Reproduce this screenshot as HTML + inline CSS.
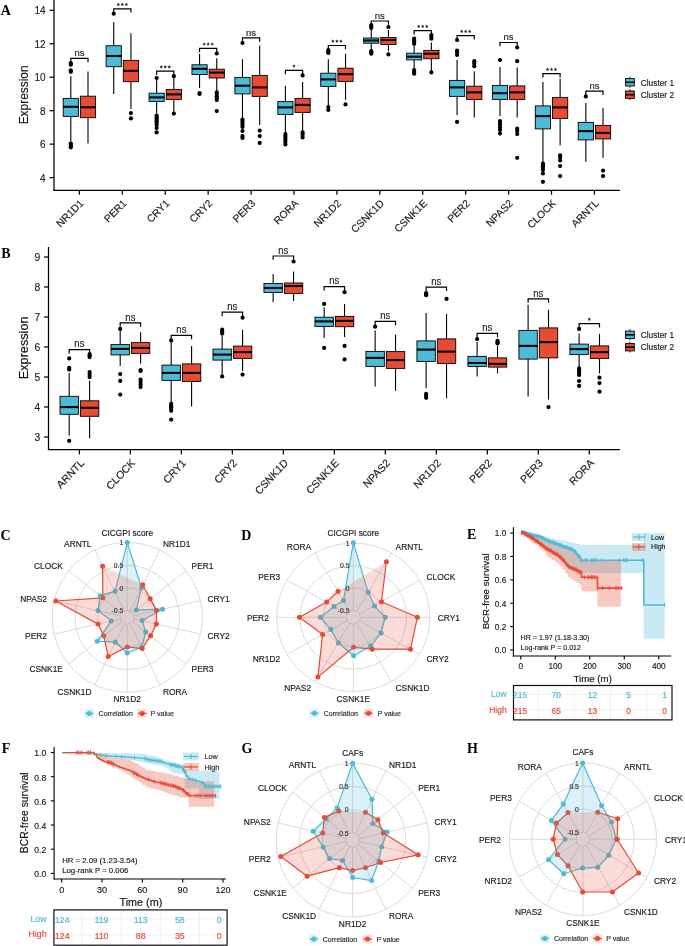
<!DOCTYPE html>
<html><head><meta charset="utf-8"><style>
html,body{margin:0;padding:0;background:#fff;overflow:hidden;}
svg{display:block;will-change:transform;}
text{font-family:"Liberation Sans",sans-serif;}
text.sf{font-family:"Liberation Serif",serif;}
</style></head><body>
<svg width="685" height="946" viewBox="0 0 685 946">
<rect width="685" height="946" fill="#fff"/>
<text x="0.8" y="14.7" font-size="14" fill="#000" font-weight="bold" class="sf">A</text>
<text x="1.2" y="258" font-size="14" fill="#000" font-weight="bold" class="sf">B</text>
<text x="0.5" y="539.6" font-size="14" fill="#000" font-weight="bold" class="sf">C</text>
<text x="241.3" y="539.6" font-size="14" fill="#000" font-weight="bold" class="sf">D</text>
<text x="467" y="539.3" font-size="14" fill="#000" font-weight="bold" class="sf">E</text>
<text x="1.8" y="752.5" font-size="14" fill="#000" font-weight="bold" class="sf">F</text>
<text x="241.6" y="752.9" font-size="14" fill="#000" font-weight="bold" class="sf">G</text>
<text x="467" y="753" font-size="14" fill="#000" font-weight="bold" class="sf">H</text>
<line x1="54" y1="0" x2="54" y2="190.85" stroke="#000" stroke-width="1.25"/>
<line x1="53.4" y1="190.25" x2="619.9" y2="190.25" stroke="#000" stroke-width="1.25"/>
<line x1="49.6" y1="177.6" x2="54" y2="177.6" stroke="#000" stroke-width="1.25"/>
<text x="45.5" y="181.6" font-size="10" text-anchor="end" fill="#222" stroke="#222" stroke-width="0.15">4</text>
<line x1="49.6" y1="144.14" x2="54" y2="144.14" stroke="#000" stroke-width="1.25"/>
<text x="45.5" y="148.14" font-size="10" text-anchor="end" fill="#222" stroke="#222" stroke-width="0.15">6</text>
<line x1="49.6" y1="110.68" x2="54" y2="110.68" stroke="#000" stroke-width="1.25"/>
<text x="45.5" y="114.68" font-size="10" text-anchor="end" fill="#222" stroke="#222" stroke-width="0.15">8</text>
<line x1="49.6" y1="77.22" x2="54" y2="77.22" stroke="#000" stroke-width="1.25"/>
<text x="45.5" y="81.22" font-size="10" text-anchor="end" fill="#222" stroke="#222" stroke-width="0.15">10</text>
<line x1="49.6" y1="43.76" x2="54" y2="43.76" stroke="#000" stroke-width="1.25"/>
<text x="45.5" y="47.76" font-size="10" text-anchor="end" fill="#222" stroke="#222" stroke-width="0.15">12</text>
<line x1="49.6" y1="10.3" x2="54" y2="10.3" stroke="#000" stroke-width="1.25"/>
<text x="45.5" y="14.3" font-size="10" text-anchor="end" fill="#222" stroke="#222" stroke-width="0.15">14</text>
<text x="28" y="94.9" font-size="11.9" text-anchor="middle" fill="#111" stroke="#111" stroke-width="0.15" transform="rotate(-90 28 94.9)">Expression</text>
<line x1="79.4" y1="190.3" x2="79.4" y2="194.7" stroke="#000" stroke-width="1.25"/>
<text x="84.4" y="203.9" font-size="10.3" text-anchor="end" fill="#222" stroke="#222" stroke-width="0.15" transform="rotate(-45 84.4 203.9)">NR1D1</text>
<line x1="122.32" y1="190.3" x2="122.32" y2="194.7" stroke="#000" stroke-width="1.25"/>
<text x="127.32" y="203.9" font-size="10.3" text-anchor="end" fill="#222" stroke="#222" stroke-width="0.15" transform="rotate(-45 127.32 203.9)">PER1</text>
<line x1="165.24" y1="190.3" x2="165.24" y2="194.7" stroke="#000" stroke-width="1.25"/>
<text x="170.24" y="203.9" font-size="10.3" text-anchor="end" fill="#222" stroke="#222" stroke-width="0.15" transform="rotate(-45 170.24 203.9)">CRY1</text>
<line x1="208.16" y1="190.3" x2="208.16" y2="194.7" stroke="#000" stroke-width="1.25"/>
<text x="213.16" y="203.9" font-size="10.3" text-anchor="end" fill="#222" stroke="#222" stroke-width="0.15" transform="rotate(-45 213.16 203.9)">CRY2</text>
<line x1="251.08" y1="190.3" x2="251.08" y2="194.7" stroke="#000" stroke-width="1.25"/>
<text x="256.08" y="203.9" font-size="10.3" text-anchor="end" fill="#222" stroke="#222" stroke-width="0.15" transform="rotate(-45 256.08 203.9)">PER3</text>
<line x1="294" y1="190.3" x2="294" y2="194.7" stroke="#000" stroke-width="1.25"/>
<text x="299" y="203.9" font-size="10.3" text-anchor="end" fill="#222" stroke="#222" stroke-width="0.15" transform="rotate(-45 299 203.9)">RORA</text>
<line x1="336.92" y1="190.3" x2="336.92" y2="194.7" stroke="#000" stroke-width="1.25"/>
<text x="341.92" y="203.9" font-size="10.3" text-anchor="end" fill="#222" stroke="#222" stroke-width="0.15" transform="rotate(-45 341.92 203.9)">NR1D2</text>
<line x1="379.84" y1="190.3" x2="379.84" y2="194.7" stroke="#000" stroke-width="1.25"/>
<text x="384.84" y="203.9" font-size="10.3" text-anchor="end" fill="#222" stroke="#222" stroke-width="0.15" transform="rotate(-45 384.84 203.9)">CSNK1D</text>
<line x1="422.76" y1="190.3" x2="422.76" y2="194.7" stroke="#000" stroke-width="1.25"/>
<text x="427.76" y="203.9" font-size="10.3" text-anchor="end" fill="#222" stroke="#222" stroke-width="0.15" transform="rotate(-45 427.76 203.9)">CSNK1E</text>
<line x1="465.68" y1="190.3" x2="465.68" y2="194.7" stroke="#000" stroke-width="1.25"/>
<text x="470.68" y="203.9" font-size="10.3" text-anchor="end" fill="#222" stroke="#222" stroke-width="0.15" transform="rotate(-45 470.68 203.9)">PER2</text>
<line x1="508.6" y1="190.3" x2="508.6" y2="194.7" stroke="#000" stroke-width="1.25"/>
<text x="513.6" y="203.9" font-size="10.3" text-anchor="end" fill="#222" stroke="#222" stroke-width="0.15" transform="rotate(-45 513.6 203.9)">NPAS2</text>
<line x1="551.52" y1="190.3" x2="551.52" y2="194.7" stroke="#000" stroke-width="1.25"/>
<text x="556.52" y="203.9" font-size="10.3" text-anchor="end" fill="#222" stroke="#222" stroke-width="0.15" transform="rotate(-45 556.52 203.9)">CLOCK</text>
<line x1="594.44" y1="190.3" x2="594.44" y2="194.7" stroke="#000" stroke-width="1.25"/>
<text x="599.44" y="203.9" font-size="10.3" text-anchor="end" fill="#222" stroke="#222" stroke-width="0.15" transform="rotate(-45 599.44 203.9)">ARNTL</text>
<line x1="70.8" y1="76.3" x2="70.8" y2="98.4" stroke="#000" stroke-width="1.1"/>
<line x1="70.8" y1="116.4" x2="70.8" y2="141.8" stroke="#000" stroke-width="1.1"/>
<rect x="63.2" y="98.4" width="15.2" height="18" fill="#4DBBD5" stroke="#000" stroke-width="0.9"/>
<line x1="63.2" y1="106.8" x2="78.4" y2="106.8" stroke="#000" stroke-width="2.1"/>
<circle cx="70.8" cy="63.2" r="2.1" fill="#000"/>
<circle cx="70.8" cy="64.8" r="2.1" fill="#000"/>
<circle cx="70.8" cy="70.3" r="2.1" fill="#000"/>
<circle cx="70.8" cy="71.8" r="2.1" fill="#000"/>
<circle cx="70.8" cy="143.5" r="2.1" fill="#000"/>
<circle cx="70.8" cy="144.8" r="2.1" fill="#000"/>
<circle cx="70.8" cy="146" r="2.1" fill="#000"/>
<circle cx="70.8" cy="147.3" r="2.1" fill="#000"/>
<line x1="88" y1="71.5" x2="88" y2="96.2" stroke="#000" stroke-width="1.1"/>
<line x1="88" y1="117.7" x2="88" y2="143.6" stroke="#000" stroke-width="1.1"/>
<rect x="80.4" y="96.2" width="15.2" height="21.5" fill="#E64B35" stroke="#000" stroke-width="0.9"/>
<line x1="80.4" y1="107.3" x2="95.6" y2="107.3" stroke="#000" stroke-width="2.1"/>
<path d="M70.8 62.2V58.4H88V62.2" fill="none" stroke="#000" stroke-width="1.2"/>
<text x="79.4" y="56.2" font-size="9.5" text-anchor="middle" fill="#222" stroke="#222" stroke-width="0.15">ns</text>
<line x1="113.72" y1="22" x2="113.72" y2="45.7" stroke="#000" stroke-width="1.1"/>
<line x1="113.72" y1="66.7" x2="113.72" y2="93.9" stroke="#000" stroke-width="1.1"/>
<rect x="106.12" y="45.7" width="15.2" height="21" fill="#4DBBD5" stroke="#000" stroke-width="0.9"/>
<line x1="106.12" y1="56" x2="121.32" y2="56" stroke="#000" stroke-width="2.1"/>
<circle cx="113.72" cy="13.7" r="2.1" fill="#000"/>
<line x1="130.92" y1="33.2" x2="130.92" y2="60.4" stroke="#000" stroke-width="1.1"/>
<line x1="130.92" y1="81.7" x2="130.92" y2="109.1" stroke="#000" stroke-width="1.1"/>
<rect x="123.32" y="60.4" width="15.2" height="21.3" fill="#E64B35" stroke="#000" stroke-width="0.9"/>
<line x1="123.32" y1="70.9" x2="138.52" y2="70.9" stroke="#000" stroke-width="2.1"/>
<circle cx="130.92" cy="113.1" r="2.1" fill="#000"/>
<circle cx="130.92" cy="118.4" r="2.1" fill="#000"/>
<path d="M113.72 12.6V8.8H130.92V12.6" fill="none" stroke="#000" stroke-width="1.2"/>
<polygon points="118.32,2.65 118.82,3.81 120.08,3.93 119.13,4.76 119.41,6 118.32,5.35 117.23,6 117.51,4.76 116.56,3.93 117.82,3.81" fill="#1a1a1a"/>
<polygon points="122.32,2.65 122.82,3.81 124.08,3.93 123.13,4.76 123.41,6 122.32,5.35 121.23,6 121.51,4.76 120.56,3.93 121.82,3.81" fill="#1a1a1a"/>
<polygon points="126.32,2.65 126.82,3.81 128.08,3.93 127.13,4.76 127.41,6 126.32,5.35 125.23,6 125.51,4.76 124.56,3.93 125.82,3.81" fill="#1a1a1a"/>
<line x1="156.64" y1="79.4" x2="156.64" y2="93.2" stroke="#000" stroke-width="1.1"/>
<line x1="156.64" y1="101.4" x2="156.64" y2="113.6" stroke="#000" stroke-width="1.1"/>
<rect x="149.04" y="93.2" width="15.2" height="8.2" fill="#4DBBD5" stroke="#000" stroke-width="0.9"/>
<line x1="149.04" y1="97.4" x2="164.24" y2="97.4" stroke="#000" stroke-width="2.1"/>
<circle cx="156.64" cy="78" r="2.1" fill="#000"/>
<circle cx="156.64" cy="115.5" r="2.1" fill="#000"/>
<circle cx="156.64" cy="117" r="2.1" fill="#000"/>
<circle cx="156.64" cy="118.5" r="2.1" fill="#000"/>
<circle cx="156.64" cy="120" r="2.1" fill="#000"/>
<circle cx="156.64" cy="121.5" r="2.1" fill="#000"/>
<circle cx="156.64" cy="123" r="2.1" fill="#000"/>
<circle cx="156.64" cy="125" r="2.1" fill="#000"/>
<circle cx="156.64" cy="128" r="2.1" fill="#000"/>
<circle cx="156.64" cy="132.4" r="2.1" fill="#000"/>
<line x1="173.84" y1="77.4" x2="173.84" y2="89.4" stroke="#000" stroke-width="1.1"/>
<line x1="173.84" y1="99.4" x2="173.84" y2="112.4" stroke="#000" stroke-width="1.1"/>
<rect x="166.24" y="89.4" width="15.2" height="10" fill="#E64B35" stroke="#000" stroke-width="0.9"/>
<line x1="166.24" y1="94.4" x2="181.44" y2="94.4" stroke="#000" stroke-width="2.1"/>
<circle cx="173.84" cy="76.2" r="2.1" fill="#000"/>
<circle cx="173.84" cy="113.6" r="2.1" fill="#000"/>
<path d="M156.64 75V71.2H173.84V75" fill="none" stroke="#000" stroke-width="1.2"/>
<polygon points="161.24,65.05 161.74,66.21 163,66.33 162.05,67.16 162.33,68.4 161.24,67.75 160.15,68.4 160.43,67.16 159.48,66.33 160.74,66.21" fill="#1a1a1a"/>
<polygon points="165.24,65.05 165.74,66.21 167,66.33 166.05,67.16 166.33,68.4 165.24,67.75 164.15,68.4 164.43,67.16 163.48,66.33 164.74,66.21" fill="#1a1a1a"/>
<polygon points="169.24,65.05 169.74,66.21 171,66.33 170.05,67.16 170.33,68.4 169.24,67.75 168.15,68.4 168.43,67.16 167.48,66.33 168.74,66.21" fill="#1a1a1a"/>
<line x1="199.56" y1="53.9" x2="199.56" y2="64.8" stroke="#000" stroke-width="1.1"/>
<line x1="199.56" y1="74.5" x2="199.56" y2="87.9" stroke="#000" stroke-width="1.1"/>
<rect x="191.96" y="64.8" width="15.2" height="9.7" fill="#4DBBD5" stroke="#000" stroke-width="0.9"/>
<line x1="191.96" y1="68.8" x2="207.16" y2="68.8" stroke="#000" stroke-width="2.1"/>
<circle cx="199.56" cy="93" r="2.1" fill="#000"/>
<circle cx="199.56" cy="94" r="2.1" fill="#000"/>
<line x1="216.76" y1="58.2" x2="216.76" y2="69.2" stroke="#000" stroke-width="1.1"/>
<line x1="216.76" y1="78" x2="216.76" y2="91.2" stroke="#000" stroke-width="1.1"/>
<rect x="209.16" y="69.2" width="15.2" height="8.8" fill="#E64B35" stroke="#000" stroke-width="0.9"/>
<line x1="209.16" y1="72.6" x2="224.36" y2="72.6" stroke="#000" stroke-width="2.1"/>
<circle cx="216.76" cy="53.5" r="2.1" fill="#000"/>
<circle cx="216.76" cy="92.4" r="2.1" fill="#000"/>
<circle cx="216.76" cy="94" r="2.1" fill="#000"/>
<circle cx="216.76" cy="96.5" r="2.1" fill="#000"/>
<circle cx="216.76" cy="98" r="2.1" fill="#000"/>
<circle cx="216.76" cy="100" r="2.1" fill="#000"/>
<circle cx="216.76" cy="111.1" r="2.1" fill="#000"/>
<path d="M199.56 52.2V48.4H216.76V52.2" fill="none" stroke="#000" stroke-width="1.2"/>
<polygon points="204.16,42.25 204.66,43.41 205.92,43.53 204.97,44.36 205.25,45.6 204.16,44.95 203.07,45.6 203.35,44.36 202.4,43.53 203.66,43.41" fill="#1a1a1a"/>
<polygon points="208.16,42.25 208.66,43.41 209.92,43.53 208.97,44.36 209.25,45.6 208.16,44.95 207.07,45.6 207.35,44.36 206.4,43.53 207.66,43.41" fill="#1a1a1a"/>
<polygon points="212.16,42.25 212.66,43.41 213.92,43.53 212.97,44.36 213.25,45.6 212.16,44.95 211.07,45.6 211.35,44.36 210.4,43.53 211.66,43.41" fill="#1a1a1a"/>
<line x1="242.48" y1="59.2" x2="242.48" y2="77.4" stroke="#000" stroke-width="1.1"/>
<line x1="242.48" y1="93.9" x2="242.48" y2="118.6" stroke="#000" stroke-width="1.1"/>
<rect x="234.88" y="77.4" width="15.2" height="16.5" fill="#4DBBD5" stroke="#000" stroke-width="0.9"/>
<line x1="234.88" y1="85.7" x2="250.08" y2="85.7" stroke="#000" stroke-width="2.1"/>
<circle cx="242.48" cy="43" r="2.1" fill="#000"/>
<circle cx="242.48" cy="119.5" r="2.1" fill="#000"/>
<circle cx="242.48" cy="121" r="2.1" fill="#000"/>
<circle cx="242.48" cy="123" r="2.1" fill="#000"/>
<circle cx="242.48" cy="125" r="2.1" fill="#000"/>
<circle cx="242.48" cy="127" r="2.1" fill="#000"/>
<circle cx="242.48" cy="131" r="2.1" fill="#000"/>
<circle cx="242.48" cy="136" r="2.1" fill="#000"/>
<circle cx="242.48" cy="138" r="2.1" fill="#000"/>
<line x1="259.68" y1="45.5" x2="259.68" y2="75.4" stroke="#000" stroke-width="1.1"/>
<line x1="259.68" y1="96.4" x2="259.68" y2="124.9" stroke="#000" stroke-width="1.1"/>
<rect x="252.08" y="75.4" width="15.2" height="21" fill="#E64B35" stroke="#000" stroke-width="0.9"/>
<line x1="252.08" y1="87.4" x2="267.28" y2="87.4" stroke="#000" stroke-width="2.1"/>
<circle cx="259.68" cy="130.6" r="2.1" fill="#000"/>
<circle cx="259.68" cy="136.1" r="2.1" fill="#000"/>
<circle cx="259.68" cy="142.9" r="2.1" fill="#000"/>
<path d="M242.48 41.7V37.9H259.68V41.7" fill="none" stroke="#000" stroke-width="1.2"/>
<text x="251.08" y="35.7" font-size="9.5" text-anchor="middle" fill="#222" stroke="#222" stroke-width="0.15">ns</text>
<line x1="285.4" y1="85.7" x2="285.4" y2="101.6" stroke="#000" stroke-width="1.1"/>
<line x1="285.4" y1="114.4" x2="285.4" y2="132.4" stroke="#000" stroke-width="1.1"/>
<rect x="277.8" y="101.6" width="15.2" height="12.8" fill="#4DBBD5" stroke="#000" stroke-width="0.9"/>
<line x1="277.8" y1="107.4" x2="293" y2="107.4" stroke="#000" stroke-width="2.1"/>
<circle cx="285.4" cy="134" r="2.1" fill="#000"/>
<circle cx="285.4" cy="136" r="2.1" fill="#000"/>
<circle cx="285.4" cy="138" r="2.1" fill="#000"/>
<circle cx="285.4" cy="140" r="2.1" fill="#000"/>
<circle cx="285.4" cy="142" r="2.1" fill="#000"/>
<circle cx="285.4" cy="144.5" r="2.1" fill="#000"/>
<line x1="302.6" y1="81.9" x2="302.6" y2="98.4" stroke="#000" stroke-width="1.1"/>
<line x1="302.6" y1="112.4" x2="302.6" y2="131.1" stroke="#000" stroke-width="1.1"/>
<rect x="295" y="98.4" width="15.2" height="14" fill="#E64B35" stroke="#000" stroke-width="0.9"/>
<line x1="295" y1="104.9" x2="310.2" y2="104.9" stroke="#000" stroke-width="2.1"/>
<circle cx="302.6" cy="75.4" r="2.1" fill="#000"/>
<circle cx="302.6" cy="132.4" r="2.1" fill="#000"/>
<circle cx="302.6" cy="134.5" r="2.1" fill="#000"/>
<circle cx="302.6" cy="137.4" r="2.1" fill="#000"/>
<path d="M285.4 74.2V70.4H302.6V74.2" fill="none" stroke="#000" stroke-width="1.2"/>
<polygon points="294,64.25 294.5,65.41 295.76,65.53 294.81,66.36 295.09,67.6 294,66.95 292.91,67.6 293.19,66.36 292.24,65.53 293.5,65.41" fill="#1a1a1a"/>
<line x1="328.32" y1="59.2" x2="328.32" y2="73.2" stroke="#000" stroke-width="1.1"/>
<line x1="328.32" y1="86.4" x2="328.32" y2="104.9" stroke="#000" stroke-width="1.1"/>
<rect x="320.72" y="73.2" width="15.2" height="13.2" fill="#4DBBD5" stroke="#000" stroke-width="0.9"/>
<line x1="320.72" y1="79.4" x2="335.92" y2="79.4" stroke="#000" stroke-width="2.1"/>
<circle cx="328.32" cy="50" r="2.1" fill="#000"/>
<circle cx="328.32" cy="51.5" r="2.1" fill="#000"/>
<circle cx="328.32" cy="53" r="2.1" fill="#000"/>
<circle cx="328.32" cy="107" r="2.1" fill="#000"/>
<circle cx="328.32" cy="109.9" r="2.1" fill="#000"/>
<line x1="345.52" y1="53.7" x2="345.52" y2="68.2" stroke="#000" stroke-width="1.1"/>
<line x1="345.52" y1="81.4" x2="345.52" y2="99.9" stroke="#000" stroke-width="1.1"/>
<rect x="337.92" y="68.2" width="15.2" height="13.2" fill="#E64B35" stroke="#000" stroke-width="0.9"/>
<line x1="337.92" y1="74.2" x2="353.12" y2="74.2" stroke="#000" stroke-width="2.1"/>
<circle cx="345.52" cy="104.4" r="2.1" fill="#000"/>
<path d="M328.32 49.3V45.5H345.52V49.3" fill="none" stroke="#000" stroke-width="1.2"/>
<polygon points="332.92,39.35 333.42,40.51 334.68,40.63 333.73,41.46 334.01,42.7 332.92,42.05 331.83,42.7 332.11,41.46 331.16,40.63 332.42,40.51" fill="#1a1a1a"/>
<polygon points="336.92,39.35 337.42,40.51 338.68,40.63 337.73,41.46 338.01,42.7 336.92,42.05 335.83,42.7 336.11,41.46 335.16,40.63 336.42,40.51" fill="#1a1a1a"/>
<polygon points="340.92,39.35 341.42,40.51 342.68,40.63 341.73,41.46 342.01,42.7 340.92,42.05 339.83,42.7 340.11,41.46 339.16,40.63 340.42,40.51" fill="#1a1a1a"/>
<line x1="371.24" y1="29.5" x2="371.24" y2="38" stroke="#000" stroke-width="1.1"/>
<line x1="371.24" y1="43.2" x2="371.24" y2="50" stroke="#000" stroke-width="1.1"/>
<rect x="363.64" y="38" width="15.2" height="5.2" fill="#4DBBD5" stroke="#000" stroke-width="0.9"/>
<line x1="363.64" y1="40.5" x2="378.84" y2="40.5" stroke="#000" stroke-width="2.1"/>
<circle cx="371.24" cy="25" r="2.1" fill="#000"/>
<circle cx="371.24" cy="26.5" r="2.1" fill="#000"/>
<circle cx="371.24" cy="28" r="2.1" fill="#000"/>
<circle cx="371.24" cy="51.2" r="2.1" fill="#000"/>
<circle cx="371.24" cy="52.5" r="2.1" fill="#000"/>
<circle cx="371.24" cy="53.7" r="2.1" fill="#000"/>
<line x1="388.44" y1="30" x2="388.44" y2="37.5" stroke="#000" stroke-width="1.1"/>
<line x1="388.44" y1="44.5" x2="388.44" y2="51.2" stroke="#000" stroke-width="1.1"/>
<rect x="380.84" y="37.5" width="15.2" height="7" fill="#E64B35" stroke="#000" stroke-width="0.9"/>
<line x1="380.84" y1="40" x2="396.04" y2="40" stroke="#000" stroke-width="2.1"/>
<circle cx="388.44" cy="27" r="2.1" fill="#000"/>
<circle cx="388.44" cy="54.4" r="2.1" fill="#000"/>
<path d="M371.24 24.8V21H388.44V24.8" fill="none" stroke="#000" stroke-width="1.2"/>
<text x="379.84" y="18.8" font-size="9.5" text-anchor="middle" fill="#222" stroke="#222" stroke-width="0.15">ns</text>
<line x1="414.16" y1="45" x2="414.16" y2="53.2" stroke="#000" stroke-width="1.1"/>
<line x1="414.16" y1="59.9" x2="414.16" y2="68.7" stroke="#000" stroke-width="1.1"/>
<rect x="406.56" y="53.2" width="15.2" height="6.7" fill="#4DBBD5" stroke="#000" stroke-width="0.9"/>
<line x1="406.56" y1="56.7" x2="421.76" y2="56.7" stroke="#000" stroke-width="2.1"/>
<circle cx="414.16" cy="38.7" r="2.1" fill="#000"/>
<circle cx="414.16" cy="40.5" r="2.1" fill="#000"/>
<circle cx="414.16" cy="42" r="2.1" fill="#000"/>
<circle cx="414.16" cy="43.7" r="2.1" fill="#000"/>
<circle cx="414.16" cy="70" r="2.1" fill="#000"/>
<circle cx="414.16" cy="72" r="2.1" fill="#000"/>
<circle cx="414.16" cy="73.7" r="2.1" fill="#000"/>
<line x1="431.36" y1="42.5" x2="431.36" y2="50.4" stroke="#000" stroke-width="1.1"/>
<line x1="431.36" y1="58.7" x2="431.36" y2="71.2" stroke="#000" stroke-width="1.1"/>
<rect x="423.76" y="50.4" width="15.2" height="8.3" fill="#E64B35" stroke="#000" stroke-width="0.9"/>
<line x1="423.76" y1="53.7" x2="438.96" y2="53.7" stroke="#000" stroke-width="2.1"/>
<circle cx="431.36" cy="35" r="2.1" fill="#000"/>
<circle cx="431.36" cy="36.5" r="2.1" fill="#000"/>
<circle cx="431.36" cy="38.7" r="2.1" fill="#000"/>
<circle cx="431.36" cy="72.4" r="2.1" fill="#000"/>
<path d="M414.16 34.5V30.7H431.36V34.5" fill="none" stroke="#000" stroke-width="1.2"/>
<polygon points="418.76,24.55 419.26,25.71 420.52,25.83 419.57,26.66 419.85,27.9 418.76,27.25 417.67,27.9 417.95,26.66 417,25.83 418.26,25.71" fill="#1a1a1a"/>
<polygon points="422.76,24.55 423.26,25.71 424.52,25.83 423.57,26.66 423.85,27.9 422.76,27.25 421.67,27.9 421.95,26.66 421,25.83 422.26,25.71" fill="#1a1a1a"/>
<polygon points="426.76,24.55 427.26,25.71 428.52,25.83 427.57,26.66 427.85,27.9 426.76,27.25 425.67,27.9 425.95,26.66 425,25.83 426.26,25.71" fill="#1a1a1a"/>
<line x1="457.08" y1="60" x2="457.08" y2="80.4" stroke="#000" stroke-width="1.1"/>
<line x1="457.08" y1="96.4" x2="457.08" y2="114.9" stroke="#000" stroke-width="1.1"/>
<rect x="449.48" y="80.4" width="15.2" height="16" fill="#4DBBD5" stroke="#000" stroke-width="0.9"/>
<line x1="449.48" y1="87.4" x2="464.68" y2="87.4" stroke="#000" stroke-width="2.1"/>
<circle cx="457.08" cy="40" r="2.1" fill="#000"/>
<circle cx="457.08" cy="50.7" r="2.1" fill="#000"/>
<circle cx="457.08" cy="52.5" r="2.1" fill="#000"/>
<circle cx="457.08" cy="55" r="2.1" fill="#000"/>
<circle cx="457.08" cy="121.9" r="2.1" fill="#000"/>
<line x1="474.28" y1="71.2" x2="474.28" y2="86.2" stroke="#000" stroke-width="1.1"/>
<line x1="474.28" y1="99.4" x2="474.28" y2="117.4" stroke="#000" stroke-width="1.1"/>
<rect x="466.68" y="86.2" width="15.2" height="13.2" fill="#E64B35" stroke="#000" stroke-width="0.9"/>
<line x1="466.68" y1="92.4" x2="481.88" y2="92.4" stroke="#000" stroke-width="2.1"/>
<circle cx="474.28" cy="61.2" r="2.1" fill="#000"/>
<circle cx="474.28" cy="63.5" r="2.1" fill="#000"/>
<circle cx="474.28" cy="66.2" r="2.1" fill="#000"/>
<path d="M457.08 39.5V35.7H474.28V39.5" fill="none" stroke="#000" stroke-width="1.2"/>
<polygon points="461.68,29.55 462.18,30.71 463.44,30.83 462.49,31.66 462.77,32.9 461.68,32.25 460.59,32.9 460.87,31.66 459.92,30.83 461.18,30.71" fill="#1a1a1a"/>
<polygon points="465.68,29.55 466.18,30.71 467.44,30.83 466.49,31.66 466.77,32.9 465.68,32.25 464.59,32.9 464.87,31.66 463.92,30.83 465.18,30.71" fill="#1a1a1a"/>
<polygon points="469.68,29.55 470.18,30.71 471.44,30.83 470.49,31.66 470.77,32.9 469.68,32.25 468.59,32.9 468.87,31.66 467.92,30.83 469.18,30.71" fill="#1a1a1a"/>
<line x1="500" y1="67" x2="500" y2="85.4" stroke="#000" stroke-width="1.1"/>
<line x1="500" y1="99.4" x2="500" y2="116.1" stroke="#000" stroke-width="1.1"/>
<rect x="492.4" y="85.4" width="15.2" height="14" fill="#4DBBD5" stroke="#000" stroke-width="0.9"/>
<line x1="492.4" y1="93.2" x2="507.6" y2="93.2" stroke="#000" stroke-width="2.1"/>
<circle cx="500" cy="60" r="2.1" fill="#000"/>
<circle cx="500" cy="121" r="2.1" fill="#000"/>
<circle cx="500" cy="123" r="2.1" fill="#000"/>
<circle cx="500" cy="125" r="2.1" fill="#000"/>
<circle cx="500" cy="127.5" r="2.1" fill="#000"/>
<circle cx="500" cy="130" r="2.1" fill="#000"/>
<circle cx="500" cy="133.6" r="2.1" fill="#000"/>
<line x1="517.2" y1="67.4" x2="517.2" y2="85.9" stroke="#000" stroke-width="1.1"/>
<line x1="517.2" y1="99.4" x2="517.2" y2="117.4" stroke="#000" stroke-width="1.1"/>
<rect x="509.6" y="85.9" width="15.2" height="13.5" fill="#E64B35" stroke="#000" stroke-width="0.9"/>
<line x1="509.6" y1="92.4" x2="524.8" y2="92.4" stroke="#000" stroke-width="2.1"/>
<circle cx="517.2" cy="47.5" r="2.1" fill="#000"/>
<circle cx="517.2" cy="61.2" r="2.1" fill="#000"/>
<circle cx="517.2" cy="128.6" r="2.1" fill="#000"/>
<circle cx="517.2" cy="131" r="2.1" fill="#000"/>
<circle cx="517.2" cy="134.1" r="2.1" fill="#000"/>
<circle cx="517.2" cy="157.8" r="2.1" fill="#000"/>
<path d="M500 46.3V42.5H517.2V46.3" fill="none" stroke="#000" stroke-width="1.2"/>
<text x="508.6" y="40.3" font-size="9.5" text-anchor="middle" fill="#222" stroke="#222" stroke-width="0.15">ns</text>
<line x1="542.92" y1="81.9" x2="542.92" y2="105.9" stroke="#000" stroke-width="1.1"/>
<line x1="542.92" y1="128.9" x2="542.92" y2="162.3" stroke="#000" stroke-width="1.1"/>
<rect x="535.32" y="105.9" width="15.2" height="23" fill="#4DBBD5" stroke="#000" stroke-width="0.9"/>
<line x1="535.32" y1="116.1" x2="550.52" y2="116.1" stroke="#000" stroke-width="2.1"/>
<circle cx="542.92" cy="163.6" r="2.1" fill="#000"/>
<circle cx="542.92" cy="165" r="2.1" fill="#000"/>
<circle cx="542.92" cy="166.5" r="2.1" fill="#000"/>
<circle cx="542.92" cy="168" r="2.1" fill="#000"/>
<circle cx="542.92" cy="170" r="2.1" fill="#000"/>
<circle cx="542.92" cy="173.5" r="2.1" fill="#000"/>
<circle cx="542.92" cy="181.8" r="2.1" fill="#000"/>
<line x1="560.12" y1="78.7" x2="560.12" y2="97.4" stroke="#000" stroke-width="1.1"/>
<line x1="560.12" y1="118.4" x2="560.12" y2="145.4" stroke="#000" stroke-width="1.1"/>
<rect x="552.52" y="97.4" width="15.2" height="21" fill="#E64B35" stroke="#000" stroke-width="0.9"/>
<line x1="552.52" y1="107.4" x2="567.72" y2="107.4" stroke="#000" stroke-width="2.1"/>
<circle cx="560.12" cy="155.3" r="2.1" fill="#000"/>
<circle cx="560.12" cy="157.5" r="2.1" fill="#000"/>
<circle cx="560.12" cy="160.5" r="2.1" fill="#000"/>
<circle cx="560.12" cy="166" r="2.1" fill="#000"/>
<circle cx="560.12" cy="176.1" r="2.1" fill="#000"/>
<path d="M542.92 77.5V73.7H560.12V77.5" fill="none" stroke="#000" stroke-width="1.2"/>
<polygon points="547.52,67.55 548.02,68.71 549.28,68.83 548.33,69.66 548.61,70.9 547.52,70.25 546.43,70.9 546.71,69.66 545.76,68.83 547.02,68.71" fill="#1a1a1a"/>
<polygon points="551.52,67.55 552.02,68.71 553.28,68.83 552.33,69.66 552.61,70.9 551.52,70.25 550.43,70.9 550.71,69.66 549.76,68.83 551.02,68.71" fill="#1a1a1a"/>
<polygon points="555.52,67.55 556.02,68.71 557.28,68.83 556.33,69.66 556.61,70.9 555.52,70.25 554.43,70.9 554.71,69.66 553.76,68.83 555.02,68.71" fill="#1a1a1a"/>
<line x1="585.84" y1="102.9" x2="585.84" y2="122.4" stroke="#000" stroke-width="1.1"/>
<line x1="585.84" y1="139.9" x2="585.84" y2="161.8" stroke="#000" stroke-width="1.1"/>
<rect x="578.24" y="122.4" width="15.2" height="17.5" fill="#4DBBD5" stroke="#000" stroke-width="0.9"/>
<line x1="578.24" y1="131.1" x2="593.44" y2="131.1" stroke="#000" stroke-width="2.1"/>
<circle cx="585.84" cy="96.4" r="2.1" fill="#000"/>
<line x1="603.04" y1="107.9" x2="603.04" y2="125.4" stroke="#000" stroke-width="1.1"/>
<line x1="603.04" y1="138.9" x2="603.04" y2="157.8" stroke="#000" stroke-width="1.1"/>
<rect x="595.44" y="125.4" width="15.2" height="13.5" fill="#E64B35" stroke="#000" stroke-width="0.9"/>
<line x1="595.44" y1="132.9" x2="610.64" y2="132.9" stroke="#000" stroke-width="2.1"/>
<circle cx="603.04" cy="170.6" r="2.1" fill="#000"/>
<circle cx="603.04" cy="176.1" r="2.1" fill="#000"/>
<path d="M585.84 95V91.2H603.04V95" fill="none" stroke="#000" stroke-width="1.2"/>
<text x="594.44" y="89" font-size="9.5" text-anchor="middle" fill="#222" stroke="#222" stroke-width="0.15">ns</text>
<line x1="629.95" y1="76.7" x2="629.95" y2="87.6" stroke="#000" stroke-width="0.9"/>
<rect x="625.6" y="78.6" width="8.7" height="7.4" fill="#4DBBD5" stroke="#000" stroke-width="0.9"/>
<line x1="625.6" y1="82.3" x2="634.3" y2="82.3" stroke="#000" stroke-width="1.6"/>
<text x="640.7" y="85.5" font-size="8.35" fill="#1a1a1a" stroke="#1a1a1a" stroke-width="0.15">Cluster 1</text>
<line x1="629.95" y1="89.1" x2="629.95" y2="100" stroke="#000" stroke-width="0.9"/>
<rect x="625.6" y="91" width="8.7" height="7.4" fill="#E64B35" stroke="#000" stroke-width="0.9"/>
<line x1="625.6" y1="94.7" x2="634.3" y2="94.7" stroke="#000" stroke-width="1.6"/>
<text x="640.7" y="97.9" font-size="8.35" fill="#1a1a1a" stroke="#1a1a1a" stroke-width="0.15">Cluster 2</text>
<line x1="48.5" y1="247" x2="48.5" y2="450.1" stroke="#000" stroke-width="1.25"/>
<line x1="47.9" y1="449.5" x2="619.9" y2="449.5" stroke="#000" stroke-width="1.25"/>
<line x1="44" y1="437" x2="48.5" y2="437" stroke="#000" stroke-width="1.25"/>
<text x="40.2" y="440.9" font-size="10.3" text-anchor="end" fill="#222" stroke="#222" stroke-width="0.15" transform="translate(40.2 440.9) scale(1 1.07) translate(-40.2 -440.9)">3</text>
<line x1="44" y1="407" x2="48.5" y2="407" stroke="#000" stroke-width="1.25"/>
<text x="40.2" y="410.9" font-size="10.3" text-anchor="end" fill="#222" stroke="#222" stroke-width="0.15" transform="translate(40.2 410.9) scale(1 1.07) translate(-40.2 -410.9)">4</text>
<line x1="44" y1="377" x2="48.5" y2="377" stroke="#000" stroke-width="1.25"/>
<text x="40.2" y="380.9" font-size="10.3" text-anchor="end" fill="#222" stroke="#222" stroke-width="0.15" transform="translate(40.2 380.9) scale(1 1.07) translate(-40.2 -380.9)">5</text>
<line x1="44" y1="347" x2="48.5" y2="347" stroke="#000" stroke-width="1.25"/>
<text x="40.2" y="350.9" font-size="10.3" text-anchor="end" fill="#222" stroke="#222" stroke-width="0.15" transform="translate(40.2 350.9) scale(1 1.07) translate(-40.2 -350.9)">6</text>
<line x1="44" y1="317" x2="48.5" y2="317" stroke="#000" stroke-width="1.25"/>
<text x="40.2" y="320.9" font-size="10.3" text-anchor="end" fill="#222" stroke="#222" stroke-width="0.15" transform="translate(40.2 320.9) scale(1 1.07) translate(-40.2 -320.9)">7</text>
<line x1="44" y1="287" x2="48.5" y2="287" stroke="#000" stroke-width="1.25"/>
<text x="40.2" y="290.9" font-size="10.3" text-anchor="end" fill="#222" stroke="#222" stroke-width="0.15" transform="translate(40.2 290.9) scale(1 1.07) translate(-40.2 -290.9)">8</text>
<line x1="44" y1="257" x2="48.5" y2="257" stroke="#000" stroke-width="1.25"/>
<text x="40.2" y="260.9" font-size="10.3" text-anchor="end" fill="#222" stroke="#222" stroke-width="0.15" transform="translate(40.2 260.9) scale(1 1.07) translate(-40.2 -260.9)">9</text>
<text x="28.2" y="347.85" font-size="12.7" text-anchor="middle" fill="#111" stroke="#111" stroke-width="0.15" transform="rotate(-90 28.2 347.85)">Expression</text>
<line x1="79.4" y1="449.5" x2="79.4" y2="454.4" stroke="#000" stroke-width="1.25"/>
<text x="84.7" y="463.6" font-size="10.3" text-anchor="end" fill="#222" stroke="#222" stroke-width="0.15" transform="translate(84.7 463.6) scale(1 1.07) translate(-84.7 -463.6) rotate(-45 84.7 463.6)">ARNTL</text>
<line x1="130.39" y1="449.5" x2="130.39" y2="454.4" stroke="#000" stroke-width="1.25"/>
<text x="135.69" y="463.6" font-size="10.3" text-anchor="end" fill="#222" stroke="#222" stroke-width="0.15" transform="translate(135.69 463.6) scale(1 1.07) translate(-135.69 -463.6) rotate(-45 135.69 463.6)">CLOCK</text>
<line x1="181.38" y1="449.5" x2="181.38" y2="454.4" stroke="#000" stroke-width="1.25"/>
<text x="186.68" y="463.6" font-size="10.3" text-anchor="end" fill="#222" stroke="#222" stroke-width="0.15" transform="translate(186.68 463.6) scale(1 1.07) translate(-186.68 -463.6) rotate(-45 186.68 463.6)">CRY1</text>
<line x1="232.37" y1="449.5" x2="232.37" y2="454.4" stroke="#000" stroke-width="1.25"/>
<text x="237.67" y="463.6" font-size="10.3" text-anchor="end" fill="#222" stroke="#222" stroke-width="0.15" transform="translate(237.67 463.6) scale(1 1.07) translate(-237.67 -463.6) rotate(-45 237.67 463.6)">CRY2</text>
<line x1="283.36" y1="449.5" x2="283.36" y2="454.4" stroke="#000" stroke-width="1.25"/>
<text x="288.66" y="463.6" font-size="10.3" text-anchor="end" fill="#222" stroke="#222" stroke-width="0.15" transform="translate(288.66 463.6) scale(1 1.07) translate(-288.66 -463.6) rotate(-45 288.66 463.6)">CSNK1D</text>
<line x1="334.35" y1="449.5" x2="334.35" y2="454.4" stroke="#000" stroke-width="1.25"/>
<text x="339.65" y="463.6" font-size="10.3" text-anchor="end" fill="#222" stroke="#222" stroke-width="0.15" transform="translate(339.65 463.6) scale(1 1.07) translate(-339.65 -463.6) rotate(-45 339.65 463.6)">CSNK1E</text>
<line x1="385.34" y1="449.5" x2="385.34" y2="454.4" stroke="#000" stroke-width="1.25"/>
<text x="390.64" y="463.6" font-size="10.3" text-anchor="end" fill="#222" stroke="#222" stroke-width="0.15" transform="translate(390.64 463.6) scale(1 1.07) translate(-390.64 -463.6) rotate(-45 390.64 463.6)">NPAS2</text>
<line x1="436.33" y1="449.5" x2="436.33" y2="454.4" stroke="#000" stroke-width="1.25"/>
<text x="441.63" y="463.6" font-size="10.3" text-anchor="end" fill="#222" stroke="#222" stroke-width="0.15" transform="translate(441.63 463.6) scale(1 1.07) translate(-441.63 -463.6) rotate(-45 441.63 463.6)">NR1D2</text>
<line x1="487.32" y1="449.5" x2="487.32" y2="454.4" stroke="#000" stroke-width="1.25"/>
<text x="492.62" y="463.6" font-size="10.3" text-anchor="end" fill="#222" stroke="#222" stroke-width="0.15" transform="translate(492.62 463.6) scale(1 1.07) translate(-492.62 -463.6) rotate(-45 492.62 463.6)">PER2</text>
<line x1="538.31" y1="449.5" x2="538.31" y2="454.4" stroke="#000" stroke-width="1.25"/>
<text x="543.61" y="463.6" font-size="10.3" text-anchor="end" fill="#222" stroke="#222" stroke-width="0.15" transform="translate(543.61 463.6) scale(1 1.07) translate(-543.61 -463.6) rotate(-45 543.61 463.6)">PER3</text>
<line x1="589.3" y1="449.5" x2="589.3" y2="454.4" stroke="#000" stroke-width="1.25"/>
<text x="594.6" y="463.6" font-size="10.3" text-anchor="end" fill="#222" stroke="#222" stroke-width="0.15" transform="translate(594.6 463.6) scale(1 1.07) translate(-594.6 -463.6) rotate(-45 594.6 463.6)">RORA</text>
<line x1="69.2" y1="372.9" x2="69.2" y2="396.3" stroke="#000" stroke-width="1.1"/>
<line x1="69.2" y1="414.3" x2="69.2" y2="435.8" stroke="#000" stroke-width="1.1"/>
<rect x="60" y="396.3" width="18.4" height="18" fill="#4DBBD5" stroke="#000" stroke-width="0.9"/>
<line x1="60" y1="407.1" x2="78.4" y2="407.1" stroke="#000" stroke-width="2.1"/>
<circle cx="69.2" cy="358.4" r="2.1" fill="#000"/>
<circle cx="69.2" cy="367.9" r="2.1" fill="#000"/>
<circle cx="69.2" cy="369.6" r="2.1" fill="#000"/>
<circle cx="69.2" cy="440.8" r="2.1" fill="#000"/>
<line x1="89.6" y1="380.9" x2="89.6" y2="400.8" stroke="#000" stroke-width="1.1"/>
<line x1="89.6" y1="416.3" x2="89.6" y2="438.3" stroke="#000" stroke-width="1.1"/>
<rect x="80.4" y="400.8" width="18.4" height="15.5" fill="#E64B35" stroke="#000" stroke-width="0.9"/>
<line x1="80.4" y1="407.8" x2="98.8" y2="407.8" stroke="#000" stroke-width="2.1"/>
<circle cx="89.6" cy="354.1" r="2.1" fill="#000"/>
<circle cx="89.6" cy="355.6" r="2.1" fill="#000"/>
<circle cx="89.6" cy="357.1" r="2.1" fill="#000"/>
<circle cx="89.6" cy="372.1" r="2.1" fill="#000"/>
<circle cx="89.6" cy="374.6" r="2.1" fill="#000"/>
<circle cx="89.6" cy="377.1" r="2.1" fill="#000"/>
<path d="M69.2 353.4V349.6H89.6V353.4" fill="none" stroke="#000" stroke-width="1.2"/>
<text x="79.4" y="347.4" font-size="9.5" text-anchor="middle" fill="#222" stroke="#222" stroke-width="0.15" transform="translate(79.4 347.4) scale(1 1.07) translate(-79.4 -347.4)">ns</text>
<line x1="120.19" y1="330.4" x2="120.19" y2="344.6" stroke="#000" stroke-width="1.1"/>
<line x1="120.19" y1="354.9" x2="120.19" y2="365.9" stroke="#000" stroke-width="1.1"/>
<rect x="110.99" y="344.6" width="18.4" height="10.3" fill="#4DBBD5" stroke="#000" stroke-width="0.9"/>
<line x1="110.99" y1="348.9" x2="129.39" y2="348.9" stroke="#000" stroke-width="2.1"/>
<circle cx="120.19" cy="328.9" r="2.1" fill="#000"/>
<circle cx="120.19" cy="374.1" r="2.1" fill="#000"/>
<circle cx="120.19" cy="380.9" r="2.1" fill="#000"/>
<circle cx="120.19" cy="394.6" r="2.1" fill="#000"/>
<line x1="140.59" y1="332.2" x2="140.59" y2="342.6" stroke="#000" stroke-width="1.1"/>
<line x1="140.59" y1="353.4" x2="140.59" y2="363.4" stroke="#000" stroke-width="1.1"/>
<rect x="131.39" y="342.6" width="18.4" height="10.8" fill="#E64B35" stroke="#000" stroke-width="0.9"/>
<line x1="131.39" y1="347.9" x2="149.79" y2="347.9" stroke="#000" stroke-width="2.1"/>
<circle cx="140.59" cy="370.1" r="2.1" fill="#000"/>
<circle cx="140.59" cy="370.9" r="2.1" fill="#000"/>
<circle cx="140.59" cy="379.6" r="2.1" fill="#000"/>
<circle cx="140.59" cy="382" r="2.1" fill="#000"/>
<circle cx="140.59" cy="384.5" r="2.1" fill="#000"/>
<circle cx="140.59" cy="387.1" r="2.1" fill="#000"/>
<path d="M120.19 326.7V322.9H140.59V326.7" fill="none" stroke="#000" stroke-width="1.2"/>
<text x="130.39" y="320.7" font-size="9.5" text-anchor="middle" fill="#222" stroke="#222" stroke-width="0.15" transform="translate(130.39 320.7) scale(1 1.07) translate(-130.39 -320.7)">ns</text>
<line x1="171.18" y1="340.9" x2="171.18" y2="365.1" stroke="#000" stroke-width="1.1"/>
<line x1="171.18" y1="380.4" x2="171.18" y2="402.8" stroke="#000" stroke-width="1.1"/>
<rect x="161.98" y="365.1" width="18.4" height="15.3" fill="#4DBBD5" stroke="#000" stroke-width="0.9"/>
<line x1="161.98" y1="372.9" x2="180.38" y2="372.9" stroke="#000" stroke-width="2.1"/>
<circle cx="171.18" cy="340.4" r="2.1" fill="#000"/>
<circle cx="171.18" cy="403.8" r="2.1" fill="#000"/>
<circle cx="171.18" cy="405.5" r="2.1" fill="#000"/>
<circle cx="171.18" cy="407.2" r="2.1" fill="#000"/>
<circle cx="171.18" cy="409" r="2.1" fill="#000"/>
<circle cx="171.18" cy="410.8" r="2.1" fill="#000"/>
<circle cx="171.18" cy="419.6" r="2.1" fill="#000"/>
<line x1="191.58" y1="345.9" x2="191.58" y2="363.9" stroke="#000" stroke-width="1.1"/>
<line x1="191.58" y1="381.4" x2="191.58" y2="406.6" stroke="#000" stroke-width="1.1"/>
<rect x="182.38" y="363.9" width="18.4" height="17.5" fill="#E64B35" stroke="#000" stroke-width="0.9"/>
<line x1="182.38" y1="372.9" x2="200.78" y2="372.9" stroke="#000" stroke-width="2.1"/>
<path d="M171.18 339.2V335.4H191.58V339.2" fill="none" stroke="#000" stroke-width="1.2"/>
<text x="181.38" y="333.2" font-size="9.5" text-anchor="middle" fill="#222" stroke="#222" stroke-width="0.15" transform="translate(181.38 333.2) scale(1 1.07) translate(-181.38 -333.2)">ns</text>
<line x1="222.17" y1="334.6" x2="222.17" y2="349.1" stroke="#000" stroke-width="1.1"/>
<line x1="222.17" y1="360.1" x2="222.17" y2="374.6" stroke="#000" stroke-width="1.1"/>
<rect x="212.97" y="349.1" width="18.4" height="11" fill="#4DBBD5" stroke="#000" stroke-width="0.9"/>
<line x1="212.97" y1="354.6" x2="231.37" y2="354.6" stroke="#000" stroke-width="2.1"/>
<circle cx="222.17" cy="329.7" r="2.1" fill="#000"/>
<circle cx="222.17" cy="331.5" r="2.1" fill="#000"/>
<circle cx="222.17" cy="333.4" r="2.1" fill="#000"/>
<circle cx="222.17" cy="376.4" r="2.1" fill="#000"/>
<line x1="242.57" y1="329.7" x2="242.57" y2="346.1" stroke="#000" stroke-width="1.1"/>
<line x1="242.57" y1="358.4" x2="242.57" y2="370.9" stroke="#000" stroke-width="1.1"/>
<rect x="233.37" y="346.1" width="18.4" height="12.3" fill="#E64B35" stroke="#000" stroke-width="0.9"/>
<line x1="233.37" y1="352.1" x2="251.77" y2="352.1" stroke="#000" stroke-width="2.1"/>
<circle cx="242.57" cy="317.7" r="2.1" fill="#000"/>
<circle cx="242.57" cy="374.6" r="2.1" fill="#000"/>
<path d="M222.17 316V312.2H242.57V316" fill="none" stroke="#000" stroke-width="1.2"/>
<text x="232.37" y="310" font-size="9.5" text-anchor="middle" fill="#222" stroke="#222" stroke-width="0.15" transform="translate(232.37 310) scale(1 1.07) translate(-232.37 -310)">ns</text>
<line x1="273.16" y1="274" x2="273.16" y2="283.5" stroke="#000" stroke-width="1.1"/>
<line x1="273.16" y1="292.4" x2="273.16" y2="302.2" stroke="#000" stroke-width="1.1"/>
<rect x="263.96" y="283.5" width="18.4" height="8.9" fill="#4DBBD5" stroke="#000" stroke-width="0.9"/>
<line x1="263.96" y1="288" x2="282.36" y2="288" stroke="#000" stroke-width="2.1"/>
<line x1="293.56" y1="271.5" x2="293.56" y2="283" stroke="#000" stroke-width="1.1"/>
<line x1="293.56" y1="293.4" x2="293.56" y2="300.9" stroke="#000" stroke-width="1.1"/>
<rect x="284.36" y="283" width="18.4" height="10.4" fill="#E64B35" stroke="#000" stroke-width="0.9"/>
<line x1="284.36" y1="286" x2="302.76" y2="286" stroke="#000" stroke-width="2.1"/>
<circle cx="293.56" cy="261.5" r="2.1" fill="#000"/>
<path d="M273.16 259.8V256H293.56V259.8" fill="none" stroke="#000" stroke-width="1.2"/>
<text x="283.36" y="253.8" font-size="9.5" text-anchor="middle" fill="#222" stroke="#222" stroke-width="0.15" transform="translate(283.36 253.8) scale(1 1.07) translate(-283.36 -253.8)">ns</text>
<line x1="324.15" y1="307.2" x2="324.15" y2="317.2" stroke="#000" stroke-width="1.1"/>
<line x1="324.15" y1="326.4" x2="324.15" y2="337.9" stroke="#000" stroke-width="1.1"/>
<rect x="314.95" y="317.2" width="18.4" height="9.2" fill="#4DBBD5" stroke="#000" stroke-width="0.9"/>
<line x1="314.95" y1="321.4" x2="333.35" y2="321.4" stroke="#000" stroke-width="2.1"/>
<circle cx="324.15" cy="303.9" r="2.1" fill="#000"/>
<circle cx="324.15" cy="347.9" r="2.1" fill="#000"/>
<line x1="344.55" y1="303.9" x2="344.55" y2="316.4" stroke="#000" stroke-width="1.1"/>
<line x1="344.55" y1="326.7" x2="344.55" y2="337.1" stroke="#000" stroke-width="1.1"/>
<rect x="335.35" y="316.4" width="18.4" height="10.3" fill="#E64B35" stroke="#000" stroke-width="0.9"/>
<line x1="335.35" y1="320.9" x2="353.75" y2="320.9" stroke="#000" stroke-width="2.1"/>
<circle cx="344.55" cy="292.2" r="2.1" fill="#000"/>
<circle cx="344.55" cy="345.9" r="2.1" fill="#000"/>
<circle cx="344.55" cy="359.4" r="2.1" fill="#000"/>
<path d="M324.15 290.5V286.7H344.55V290.5" fill="none" stroke="#000" stroke-width="1.2"/>
<text x="334.35" y="284.5" font-size="9.5" text-anchor="middle" fill="#222" stroke="#222" stroke-width="0.15" transform="translate(334.35 284.5) scale(1 1.07) translate(-334.35 -284.5)">ns</text>
<line x1="375.14" y1="330.4" x2="375.14" y2="351.4" stroke="#000" stroke-width="1.1"/>
<line x1="375.14" y1="366.4" x2="375.14" y2="386.6" stroke="#000" stroke-width="1.1"/>
<rect x="365.94" y="351.4" width="18.4" height="15" fill="#4DBBD5" stroke="#000" stroke-width="0.9"/>
<line x1="365.94" y1="357.9" x2="384.34" y2="357.9" stroke="#000" stroke-width="2.1"/>
<circle cx="375.14" cy="326.7" r="2.1" fill="#000"/>
<line x1="395.54" y1="334.6" x2="395.54" y2="351.6" stroke="#000" stroke-width="1.1"/>
<line x1="395.54" y1="368.4" x2="395.54" y2="390.8" stroke="#000" stroke-width="1.1"/>
<rect x="386.34" y="351.6" width="18.4" height="16.8" fill="#E64B35" stroke="#000" stroke-width="0.9"/>
<line x1="386.34" y1="360.1" x2="404.74" y2="360.1" stroke="#000" stroke-width="2.1"/>
<path d="M375.14 325.2V321.4H395.54V325.2" fill="none" stroke="#000" stroke-width="1.2"/>
<text x="385.34" y="319.2" font-size="9.5" text-anchor="middle" fill="#222" stroke="#222" stroke-width="0.15" transform="translate(385.34 319.2) scale(1 1.07) translate(-385.34 -319.2)">ns</text>
<line x1="426.13" y1="312.9" x2="426.13" y2="340.9" stroke="#000" stroke-width="1.1"/>
<line x1="426.13" y1="361.4" x2="426.13" y2="388.3" stroke="#000" stroke-width="1.1"/>
<rect x="416.93" y="340.9" width="18.4" height="20.5" fill="#4DBBD5" stroke="#000" stroke-width="0.9"/>
<line x1="416.93" y1="349.6" x2="435.33" y2="349.6" stroke="#000" stroke-width="2.1"/>
<circle cx="426.13" cy="293" r="2.1" fill="#000"/>
<circle cx="426.13" cy="294.2" r="2.1" fill="#000"/>
<circle cx="426.13" cy="295.2" r="2.1" fill="#000"/>
<circle cx="426.13" cy="393.8" r="2.1" fill="#000"/>
<circle cx="426.13" cy="395.8" r="2.1" fill="#000"/>
<circle cx="426.13" cy="397.8" r="2.1" fill="#000"/>
<line x1="446.53" y1="313.9" x2="446.53" y2="338.9" stroke="#000" stroke-width="1.1"/>
<line x1="446.53" y1="363.4" x2="446.53" y2="398.3" stroke="#000" stroke-width="1.1"/>
<rect x="437.33" y="338.9" width="18.4" height="24.5" fill="#E64B35" stroke="#000" stroke-width="0.9"/>
<line x1="437.33" y1="351.6" x2="455.73" y2="351.6" stroke="#000" stroke-width="2.1"/>
<circle cx="446.53" cy="298.9" r="2.1" fill="#000"/>
<path d="M426.13 291V287.2H446.53V291" fill="none" stroke="#000" stroke-width="1.2"/>
<text x="436.33" y="285" font-size="9.5" text-anchor="middle" fill="#222" stroke="#222" stroke-width="0.15" transform="translate(436.33 285) scale(1 1.07) translate(-436.33 -285)">ns</text>
<line x1="477.12" y1="342.1" x2="477.12" y2="356.4" stroke="#000" stroke-width="1.1"/>
<line x1="477.12" y1="366.4" x2="477.12" y2="376.6" stroke="#000" stroke-width="1.1"/>
<rect x="467.92" y="356.4" width="18.4" height="10" fill="#4DBBD5" stroke="#000" stroke-width="0.9"/>
<line x1="467.92" y1="363" x2="486.32" y2="363" stroke="#000" stroke-width="2.1"/>
<circle cx="477.12" cy="339.1" r="2.1" fill="#000"/>
<line x1="497.52" y1="345.9" x2="497.52" y2="357.9" stroke="#000" stroke-width="1.1"/>
<line x1="497.52" y1="367.1" x2="497.52" y2="373.4" stroke="#000" stroke-width="1.1"/>
<rect x="488.32" y="357.9" width="18.4" height="9.2" fill="#E64B35" stroke="#000" stroke-width="0.9"/>
<line x1="488.32" y1="363.9" x2="506.72" y2="363.9" stroke="#000" stroke-width="2.1"/>
<circle cx="497.52" cy="340.9" r="2.1" fill="#000"/>
<circle cx="497.52" cy="342.2" r="2.1" fill="#000"/>
<circle cx="497.52" cy="343.4" r="2.1" fill="#000"/>
<path d="M477.12 337.2V333.4H497.52V337.2" fill="none" stroke="#000" stroke-width="1.2"/>
<text x="487.32" y="331.2" font-size="9.5" text-anchor="middle" fill="#222" stroke="#222" stroke-width="0.15" transform="translate(487.32 331.2) scale(1 1.07) translate(-487.32 -331.2)">ns</text>
<line x1="528.11" y1="304.7" x2="528.11" y2="330.4" stroke="#000" stroke-width="1.1"/>
<line x1="528.11" y1="359.1" x2="528.11" y2="396.6" stroke="#000" stroke-width="1.1"/>
<rect x="518.91" y="330.4" width="18.4" height="28.7" fill="#4DBBD5" stroke="#000" stroke-width="0.9"/>
<line x1="518.91" y1="345.9" x2="537.31" y2="345.9" stroke="#000" stroke-width="2.1"/>
<line x1="548.51" y1="309.7" x2="548.51" y2="327.9" stroke="#000" stroke-width="1.1"/>
<line x1="548.51" y1="357.9" x2="548.51" y2="399.6" stroke="#000" stroke-width="1.1"/>
<rect x="539.31" y="327.9" width="18.4" height="30" fill="#E64B35" stroke="#000" stroke-width="0.9"/>
<line x1="539.31" y1="342.1" x2="557.71" y2="342.1" stroke="#000" stroke-width="2.1"/>
<circle cx="548.51" cy="407.1" r="2.1" fill="#000"/>
<path d="M528.11 302.7V298.9H548.51V302.7" fill="none" stroke="#000" stroke-width="1.2"/>
<text x="538.31" y="296.7" font-size="9.5" text-anchor="middle" fill="#222" stroke="#222" stroke-width="0.15" transform="translate(538.31 296.7) scale(1 1.07) translate(-538.31 -296.7)">ns</text>
<line x1="579.1" y1="333.4" x2="579.1" y2="344.1" stroke="#000" stroke-width="1.1"/>
<line x1="579.1" y1="354.6" x2="579.1" y2="367.1" stroke="#000" stroke-width="1.1"/>
<rect x="569.9" y="344.1" width="18.4" height="10.5" fill="#4DBBD5" stroke="#000" stroke-width="0.9"/>
<line x1="569.9" y1="349.1" x2="588.3" y2="349.1" stroke="#000" stroke-width="2.1"/>
<circle cx="579.1" cy="328.9" r="2.1" fill="#000"/>
<circle cx="579.1" cy="368.4" r="2.1" fill="#000"/>
<circle cx="579.1" cy="370" r="2.1" fill="#000"/>
<circle cx="579.1" cy="371.5" r="2.1" fill="#000"/>
<circle cx="579.1" cy="373" r="2.1" fill="#000"/>
<circle cx="579.1" cy="375" r="2.1" fill="#000"/>
<circle cx="579.1" cy="381" r="2.1" fill="#000"/>
<circle cx="579.1" cy="385.9" r="2.1" fill="#000"/>
<line x1="599.5" y1="333.9" x2="599.5" y2="345.9" stroke="#000" stroke-width="1.1"/>
<line x1="599.5" y1="358.4" x2="599.5" y2="373.4" stroke="#000" stroke-width="1.1"/>
<rect x="590.3" y="345.9" width="18.4" height="12.5" fill="#E64B35" stroke="#000" stroke-width="0.9"/>
<line x1="590.3" y1="352.1" x2="608.7" y2="352.1" stroke="#000" stroke-width="2.1"/>
<circle cx="599.5" cy="377.7" r="2.1" fill="#000"/>
<circle cx="599.5" cy="383.1" r="2.1" fill="#000"/>
<circle cx="599.5" cy="391.7" r="2.1" fill="#000"/>
<path d="M579.1 327.4V323.6H599.5V327.4" fill="none" stroke="#000" stroke-width="1.2"/>
<polygon points="589.3,317.45 589.8,318.61 591.06,318.73 590.11,319.56 590.39,320.8 589.3,320.15 588.21,320.8 588.49,319.56 587.54,318.73 588.8,318.61" fill="#1a1a1a"/>
<line x1="629.95" y1="329.2" x2="629.95" y2="340.1" stroke="#000" stroke-width="0.9"/>
<rect x="625.6" y="331.1" width="8.7" height="7.4" fill="#4DBBD5" stroke="#000" stroke-width="0.9"/>
<line x1="625.6" y1="334.8" x2="634.3" y2="334.8" stroke="#000" stroke-width="1.6"/>
<text x="640.7" y="338" font-size="8.35" fill="#1a1a1a" stroke="#1a1a1a" stroke-width="0.15">Cluster 1</text>
<line x1="629.95" y1="341.6" x2="629.95" y2="352.5" stroke="#000" stroke-width="0.9"/>
<rect x="625.6" y="343.5" width="8.7" height="7.4" fill="#E64B35" stroke="#000" stroke-width="0.9"/>
<line x1="625.6" y1="347.2" x2="634.3" y2="347.2" stroke="#000" stroke-width="1.6"/>
<text x="640.7" y="350.4" font-size="8.35" fill="#1a1a1a" stroke="#1a1a1a" stroke-width="0.15">Cluster 2</text>
<ellipse cx="127.25" cy="617.4" rx="6.92" ry="6.9" fill="none" stroke="#d6d6d6" stroke-width="0.9"/>
<ellipse cx="127.25" cy="617.4" rx="29.61" ry="29.55" fill="none" stroke="#d6d6d6" stroke-width="0.9"/>
<ellipse cx="127.25" cy="617.4" rx="52.3" ry="52.2" fill="none" stroke="#d6d6d6" stroke-width="0.9"/>
<ellipse cx="127.25" cy="617.4" rx="75" ry="74.85" fill="none" stroke="#d6d6d6" stroke-width="0.9"/>
<line x1="127.25" y1="610.5" x2="127.25" y2="542.55" stroke="#d6d6d6" stroke-width="0.9"/>
<line x1="130.25" y1="611.18" x2="159.79" y2="549.96" stroke="#d6d6d6" stroke-width="0.9"/>
<line x1="132.66" y1="613.1" x2="185.89" y2="570.73" stroke="#d6d6d6" stroke-width="0.9"/>
<line x1="133.99" y1="615.86" x2="200.37" y2="600.74" stroke="#d6d6d6" stroke-width="0.9"/>
<line x1="133.99" y1="618.94" x2="200.37" y2="634.06" stroke="#d6d6d6" stroke-width="0.9"/>
<line x1="132.66" y1="621.7" x2="185.89" y2="664.07" stroke="#d6d6d6" stroke-width="0.9"/>
<line x1="130.25" y1="623.62" x2="159.79" y2="684.84" stroke="#d6d6d6" stroke-width="0.9"/>
<line x1="127.25" y1="624.3" x2="127.25" y2="692.25" stroke="#d6d6d6" stroke-width="0.9"/>
<line x1="124.25" y1="623.62" x2="94.71" y2="684.84" stroke="#d6d6d6" stroke-width="0.9"/>
<line x1="121.84" y1="621.7" x2="68.61" y2="664.07" stroke="#d6d6d6" stroke-width="0.9"/>
<line x1="120.51" y1="618.94" x2="54.13" y2="634.06" stroke="#d6d6d6" stroke-width="0.9"/>
<line x1="120.51" y1="615.86" x2="54.13" y2="600.74" stroke="#d6d6d6" stroke-width="0.9"/>
<line x1="121.84" y1="613.1" x2="68.61" y2="570.73" stroke="#d6d6d6" stroke-width="0.9"/>
<line x1="124.25" y1="611.18" x2="94.71" y2="549.96" stroke="#d6d6d6" stroke-width="0.9"/>
<polygon points="127.3,542.6 141.5,587.7 136.2,610.1 162.5,609.2 142.2,620.6 145.7,632 141.8,647.2 127.3,653 115.2,642 97.2,641.3 111.2,620.9 98,610.6 100.1,595.7 115,591.3" fill="none" stroke="#4DBBD5" stroke-width="1.2" stroke-linejoin="round"/>
<polyline points="142.7,584.7 150.2,598.7 156.4,610.6 156.4,624.1 150.6,635.8 142.2,648.6 127.3,646.9 108.2,656.5 103.8,635.8 98,624.1 55.8,601 102.8,597.8 102.6,566.3" fill="none" stroke="#E64B35" stroke-width="1.2" stroke-linejoin="round"/>
<circle cx="127.3" cy="542.6" r="2.5" fill="#4DBBD5"/>
<circle cx="141.5" cy="587.7" r="2.5" fill="#4DBBD5"/>
<circle cx="136.2" cy="610.1" r="2.5" fill="#4DBBD5"/>
<circle cx="162.5" cy="609.2" r="2.5" fill="#4DBBD5"/>
<circle cx="142.2" cy="620.6" r="2.5" fill="#4DBBD5"/>
<circle cx="145.7" cy="632" r="2.5" fill="#4DBBD5"/>
<circle cx="141.8" cy="647.2" r="2.5" fill="#4DBBD5"/>
<circle cx="127.3" cy="653" r="2.5" fill="#4DBBD5"/>
<circle cx="115.2" cy="642" r="2.5" fill="#4DBBD5"/>
<circle cx="97.2" cy="641.3" r="2.5" fill="#4DBBD5"/>
<circle cx="111.2" cy="620.9" r="2.5" fill="#4DBBD5"/>
<circle cx="98" cy="610.6" r="2.5" fill="#4DBBD5"/>
<circle cx="100.1" cy="595.7" r="2.5" fill="#4DBBD5"/>
<circle cx="115" cy="591.3" r="2.5" fill="#4DBBD5"/>
<circle cx="142.7" cy="584.7" r="2.5" fill="#E64B35"/>
<circle cx="150.2" cy="598.7" r="2.5" fill="#E64B35"/>
<circle cx="156.4" cy="610.6" r="2.5" fill="#E64B35"/>
<circle cx="156.4" cy="624.1" r="2.5" fill="#E64B35"/>
<circle cx="150.6" cy="635.8" r="2.5" fill="#E64B35"/>
<circle cx="142.2" cy="648.6" r="2.5" fill="#E64B35"/>
<circle cx="127.3" cy="646.9" r="2.5" fill="#E64B35"/>
<circle cx="108.2" cy="656.5" r="2.5" fill="#E64B35"/>
<circle cx="103.8" cy="635.8" r="2.5" fill="#E64B35"/>
<circle cx="98" cy="624.1" r="2.5" fill="#E64B35"/>
<circle cx="55.8" cy="601" r="2.5" fill="#E64B35"/>
<circle cx="102.8" cy="597.8" r="2.5" fill="#E64B35"/>
<circle cx="102.6" cy="566.3" r="2.5" fill="#E64B35"/>
<polygon points="127.3,542.6 141.5,587.7 136.2,610.1 162.5,609.2 142.2,620.6 145.7,632 141.8,647.2 127.3,653 115.2,642 97.2,641.3 111.2,620.9 98,610.6 100.1,595.7 115,591.3" fill="#4DBBD5" fill-opacity="0.2" stroke="none"/>
<polygon points="142.7,584.7 150.2,598.7 156.4,610.6 156.4,624.1 150.6,635.8 142.2,648.6 127.3,646.9 108.2,656.5 103.8,635.8 98,624.1 55.8,601 102.8,597.8 102.6,566.3" fill="#E64B35" fill-opacity="0.2" stroke="none"/>
<text x="123.2" y="545.35" font-size="6.8" text-anchor="end" fill="#333" stroke="#333" stroke-width="0.15">1</text>
<text x="123.2" y="568" font-size="6.8" text-anchor="end" fill="#333" stroke="#333" stroke-width="0.15">0.5</text>
<text x="123.2" y="590.65" font-size="6.8" text-anchor="end" fill="#333" stroke="#333" stroke-width="0.15">0</text>
<text x="123.2" y="613.3" font-size="6.8" text-anchor="end" fill="#333" stroke="#333" stroke-width="0.15">-0.5</text>
<text x="127.25" y="535.6" font-size="8.4" text-anchor="middle" fill="#1a1a1a" stroke="#1a1a1a" stroke-width="0.15">CICGPI score</text>
<text x="162.96" y="546.55" font-size="8.4" fill="#1a1a1a" stroke="#1a1a1a" stroke-width="0.15">NR1D1</text>
<text x="191.59" y="569.39" font-size="8.4" fill="#1a1a1a" stroke="#1a1a1a" stroke-width="0.15">PER1</text>
<text x="207.49" y="602.39" font-size="8.4" fill="#1a1a1a" stroke="#1a1a1a" stroke-width="0.15">CRY1</text>
<text x="207.49" y="639.01" font-size="8.4" fill="#1a1a1a" stroke="#1a1a1a" stroke-width="0.15">CRY2</text>
<text x="191.59" y="672.01" font-size="8.4" fill="#1a1a1a" stroke="#1a1a1a" stroke-width="0.15">PER3</text>
<text x="162.96" y="694.85" font-size="8.4" fill="#1a1a1a" stroke="#1a1a1a" stroke-width="0.15">RORA</text>
<text x="127.25" y="702.3" font-size="8.4" text-anchor="middle" fill="#1a1a1a" stroke="#1a1a1a" stroke-width="0.15">NR1D2</text>
<text x="91.54" y="694.85" font-size="8.4" text-anchor="end" fill="#1a1a1a" stroke="#1a1a1a" stroke-width="0.15">CSNK1D</text>
<text x="62.91" y="672.01" font-size="8.4" text-anchor="end" fill="#1a1a1a" stroke="#1a1a1a" stroke-width="0.15">CSNK1E</text>
<text x="47.01" y="639.01" font-size="8.4" text-anchor="end" fill="#1a1a1a" stroke="#1a1a1a" stroke-width="0.15">PER2</text>
<text x="47.01" y="602.39" font-size="8.4" text-anchor="end" fill="#1a1a1a" stroke="#1a1a1a" stroke-width="0.15">NPAS2</text>
<text x="62.91" y="569.39" font-size="8.4" text-anchor="end" fill="#1a1a1a" stroke="#1a1a1a" stroke-width="0.15">CLOCK</text>
<text x="91.54" y="546.55" font-size="8.4" text-anchor="end" fill="#1a1a1a" stroke="#1a1a1a" stroke-width="0.15">ARNTL</text>
<rect x="84.9" y="709.2" width="8.8" height="8.4" fill="#4DBBD5" fill-opacity="0.2"/>
<line x1="84.9" y1="713.4" x2="93.7" y2="713.4" stroke="#4DBBD5" stroke-width="1.2"/>
<circle cx="89.3" cy="713.4" r="2.5" fill="#4DBBD5"/>
<text x="98.6" y="716" font-size="7" fill="#2a2a2a" stroke="#2a2a2a" stroke-width="0.15">Correlation</text>
<rect x="137.7" y="709.2" width="8.8" height="8.4" fill="#E64B35" fill-opacity="0.2"/>
<line x1="137.7" y1="713.4" x2="146.5" y2="713.4" stroke="#E64B35" stroke-width="1.2"/>
<circle cx="142.1" cy="713.4" r="2.5" fill="#E64B35"/>
<text x="150.6" y="716" font-size="7" fill="#2a2a2a" stroke="#2a2a2a" stroke-width="0.15">P value</text>
<ellipse cx="353.3" cy="617.3" rx="7.05" ry="6.84" fill="none" stroke="#d6d6d6" stroke-width="0.9"/>
<ellipse cx="353.3" cy="617.3" rx="30.2" ry="29.29" fill="none" stroke="#d6d6d6" stroke-width="0.9"/>
<ellipse cx="353.3" cy="617.3" rx="53.35" ry="51.75" fill="none" stroke="#d6d6d6" stroke-width="0.9"/>
<ellipse cx="353.3" cy="617.3" rx="76.5" ry="74.2" fill="none" stroke="#d6d6d6" stroke-width="0.9"/>
<line x1="353.3" y1="610.46" x2="353.3" y2="543.1" stroke="#d6d6d6" stroke-width="0.9"/>
<line x1="356.83" y1="611.38" x2="391.55" y2="553.04" stroke="#d6d6d6" stroke-width="0.9"/>
<line x1="359.41" y1="613.88" x2="419.55" y2="580.2" stroke="#d6d6d6" stroke-width="0.9"/>
<line x1="360.35" y1="617.3" x2="429.8" y2="617.3" stroke="#d6d6d6" stroke-width="0.9"/>
<line x1="359.41" y1="620.72" x2="419.55" y2="654.4" stroke="#d6d6d6" stroke-width="0.9"/>
<line x1="356.83" y1="623.22" x2="391.55" y2="681.56" stroke="#d6d6d6" stroke-width="0.9"/>
<line x1="353.3" y1="624.14" x2="353.3" y2="691.5" stroke="#d6d6d6" stroke-width="0.9"/>
<line x1="349.77" y1="623.22" x2="315.05" y2="681.56" stroke="#d6d6d6" stroke-width="0.9"/>
<line x1="347.19" y1="620.72" x2="287.05" y2="654.4" stroke="#d6d6d6" stroke-width="0.9"/>
<line x1="346.25" y1="617.3" x2="276.8" y2="617.3" stroke="#d6d6d6" stroke-width="0.9"/>
<line x1="347.19" y1="613.88" x2="287.05" y2="580.2" stroke="#d6d6d6" stroke-width="0.9"/>
<line x1="349.77" y1="611.38" x2="315.05" y2="553.04" stroke="#d6d6d6" stroke-width="0.9"/>
<polygon points="353.3,542.8 368.2,592.3 374.5,605.9 385.3,617.3 381.1,632.9 370.7,646.1 353.6,655.8 338.4,642.9 330.8,629.6 320.4,617.3 334,606.5 343.5,600.6" fill="none" stroke="#4DBBD5" stroke-width="1.2" stroke-linejoin="round"/>
<polyline points="386.4,561.7 381.5,601.7 417.4,617.3 410.5,649.2 372.2,649.2 353.6,647.3 317.9,677.1 322.6,634.4 299.4,617.3 326.6,602.1 338,591.3" fill="none" stroke="#E64B35" stroke-width="1.2" stroke-linejoin="round"/>
<circle cx="353.3" cy="542.8" r="2.5" fill="#4DBBD5"/>
<circle cx="368.2" cy="592.3" r="2.5" fill="#4DBBD5"/>
<circle cx="374.5" cy="605.9" r="2.5" fill="#4DBBD5"/>
<circle cx="385.3" cy="617.3" r="2.5" fill="#4DBBD5"/>
<circle cx="381.1" cy="632.9" r="2.5" fill="#4DBBD5"/>
<circle cx="370.7" cy="646.1" r="2.5" fill="#4DBBD5"/>
<circle cx="353.6" cy="655.8" r="2.5" fill="#4DBBD5"/>
<circle cx="338.4" cy="642.9" r="2.5" fill="#4DBBD5"/>
<circle cx="330.8" cy="629.6" r="2.5" fill="#4DBBD5"/>
<circle cx="320.4" cy="617.3" r="2.5" fill="#4DBBD5"/>
<circle cx="334" cy="606.5" r="2.5" fill="#4DBBD5"/>
<circle cx="343.5" cy="600.6" r="2.5" fill="#4DBBD5"/>
<circle cx="386.4" cy="561.7" r="2.5" fill="#E64B35"/>
<circle cx="381.5" cy="601.7" r="2.5" fill="#E64B35"/>
<circle cx="417.4" cy="617.3" r="2.5" fill="#E64B35"/>
<circle cx="410.5" cy="649.2" r="2.5" fill="#E64B35"/>
<circle cx="372.2" cy="649.2" r="2.5" fill="#E64B35"/>
<circle cx="353.6" cy="647.3" r="2.5" fill="#E64B35"/>
<circle cx="317.9" cy="677.1" r="2.5" fill="#E64B35"/>
<circle cx="322.6" cy="634.4" r="2.5" fill="#E64B35"/>
<circle cx="299.4" cy="617.3" r="2.5" fill="#E64B35"/>
<circle cx="326.6" cy="602.1" r="2.5" fill="#E64B35"/>
<circle cx="338" cy="591.3" r="2.5" fill="#E64B35"/>
<polygon points="353.3,542.8 368.2,592.3 374.5,605.9 385.3,617.3 381.1,632.9 370.7,646.1 353.6,655.8 338.4,642.9 330.8,629.6 320.4,617.3 334,606.5 343.5,600.6" fill="#4DBBD5" fill-opacity="0.2" stroke="none"/>
<polygon points="386.4,561.7 381.5,601.7 417.4,617.3 410.5,649.2 372.2,649.2 353.6,647.3 317.9,677.1 322.6,634.4 299.4,617.3 326.6,602.1 338,591.3" fill="#E64B35" fill-opacity="0.2" stroke="none"/>
<text x="349.5" y="545.9" font-size="6.8" text-anchor="end" fill="#333" stroke="#333" stroke-width="0.15">1</text>
<text x="349.5" y="568.35" font-size="6.8" text-anchor="end" fill="#333" stroke="#333" stroke-width="0.15">0.5</text>
<text x="349.5" y="590.81" font-size="6.8" text-anchor="end" fill="#333" stroke="#333" stroke-width="0.15">0</text>
<text x="349.5" y="613.26" font-size="6.8" text-anchor="end" fill="#333" stroke="#333" stroke-width="0.15">-0.5</text>
<text x="353.3" y="535.5" font-size="8.4" text-anchor="middle" fill="#1a1a1a" stroke="#1a1a1a" stroke-width="0.15">CICGPI score</text>
<text x="395.55" y="549.76" font-size="8.4" fill="#1a1a1a" stroke="#1a1a1a" stroke-width="0.15">ARNTL</text>
<text x="426.48" y="579.7" font-size="8.4" fill="#1a1a1a" stroke="#1a1a1a" stroke-width="0.15">CLOCK</text>
<text x="437.8" y="620.6" font-size="8.4" fill="#1a1a1a" stroke="#1a1a1a" stroke-width="0.15">CRY1</text>
<text x="426.48" y="661.5" font-size="8.4" fill="#1a1a1a" stroke="#1a1a1a" stroke-width="0.15">CRY2</text>
<text x="395.55" y="691.44" font-size="8.4" fill="#1a1a1a" stroke="#1a1a1a" stroke-width="0.15">CSNK1D</text>
<text x="353.3" y="701.7" font-size="8.4" text-anchor="middle" fill="#1a1a1a" stroke="#1a1a1a" stroke-width="0.15">CSNK1E</text>
<text x="311.05" y="691.44" font-size="8.4" text-anchor="end" fill="#1a1a1a" stroke="#1a1a1a" stroke-width="0.15">NPAS2</text>
<text x="280.12" y="661.5" font-size="8.4" text-anchor="end" fill="#1a1a1a" stroke="#1a1a1a" stroke-width="0.15">NR1D2</text>
<text x="268.8" y="620.6" font-size="8.4" text-anchor="end" fill="#1a1a1a" stroke="#1a1a1a" stroke-width="0.15">PER2</text>
<text x="280.12" y="579.7" font-size="8.4" text-anchor="end" fill="#1a1a1a" stroke="#1a1a1a" stroke-width="0.15">PER3</text>
<text x="311.05" y="549.76" font-size="8.4" text-anchor="end" fill="#1a1a1a" stroke="#1a1a1a" stroke-width="0.15">RORA</text>
<rect x="310.1" y="709" width="8.8" height="8.4" fill="#4DBBD5" fill-opacity="0.2"/>
<line x1="310.1" y1="713.2" x2="318.9" y2="713.2" stroke="#4DBBD5" stroke-width="1.2"/>
<circle cx="314.5" cy="713.2" r="2.5" fill="#4DBBD5"/>
<text x="323.7" y="715.8" font-size="7" fill="#2a2a2a" stroke="#2a2a2a" stroke-width="0.15">Correlation</text>
<rect x="364.1" y="709" width="8.8" height="8.4" fill="#E64B35" fill-opacity="0.2"/>
<line x1="364.1" y1="713.2" x2="372.9" y2="713.2" stroke="#E64B35" stroke-width="1.2"/>
<circle cx="368.5" cy="713.2" r="2.5" fill="#E64B35"/>
<text x="377.7" y="715.8" font-size="7" fill="#2a2a2a" stroke="#2a2a2a" stroke-width="0.15">P value</text>
<ellipse cx="352.6" cy="840.05" rx="7.04" ry="7.09" fill="none" stroke="#d6d6d6" stroke-width="0.9"/>
<ellipse cx="352.6" cy="840.05" rx="30.16" ry="30.36" fill="none" stroke="#d6d6d6" stroke-width="0.9"/>
<ellipse cx="352.6" cy="840.05" rx="53.28" ry="53.63" fill="none" stroke="#d6d6d6" stroke-width="0.9"/>
<ellipse cx="352.6" cy="840.05" rx="76.4" ry="76.9" fill="none" stroke="#d6d6d6" stroke-width="0.9"/>
<line x1="352.6" y1="832.96" x2="352.6" y2="763.15" stroke="#d6d6d6" stroke-width="0.9"/>
<line x1="355.66" y1="833.66" x2="385.75" y2="770.77" stroke="#d6d6d6" stroke-width="0.9"/>
<line x1="358.11" y1="835.63" x2="412.33" y2="792.1" stroke="#d6d6d6" stroke-width="0.9"/>
<line x1="359.47" y1="838.47" x2="427.08" y2="822.94" stroke="#d6d6d6" stroke-width="0.9"/>
<line x1="359.47" y1="841.63" x2="427.08" y2="857.16" stroke="#d6d6d6" stroke-width="0.9"/>
<line x1="358.11" y1="844.47" x2="412.33" y2="888" stroke="#d6d6d6" stroke-width="0.9"/>
<line x1="355.66" y1="846.44" x2="385.75" y2="909.33" stroke="#d6d6d6" stroke-width="0.9"/>
<line x1="352.6" y1="847.14" x2="352.6" y2="916.95" stroke="#d6d6d6" stroke-width="0.9"/>
<line x1="349.54" y1="846.44" x2="319.45" y2="909.33" stroke="#d6d6d6" stroke-width="0.9"/>
<line x1="347.09" y1="844.47" x2="292.87" y2="888" stroke="#d6d6d6" stroke-width="0.9"/>
<line x1="345.73" y1="841.63" x2="278.12" y2="857.16" stroke="#d6d6d6" stroke-width="0.9"/>
<line x1="345.73" y1="838.47" x2="278.12" y2="822.94" stroke="#d6d6d6" stroke-width="0.9"/>
<line x1="347.09" y1="835.63" x2="292.87" y2="792.1" stroke="#d6d6d6" stroke-width="0.9"/>
<line x1="349.54" y1="833.66" x2="319.45" y2="770.77" stroke="#d6d6d6" stroke-width="0.9"/>
<polygon points="352.6,763.3 372,799.3 372.9,823.6 387.2,832 381.7,846.8 378.8,861 371.6,880.6 352.6,877.5 342.6,860.5 329.5,858.6 323.2,847.2 313.2,831.2 326.1,818.9 337.1,807.9" fill="none" stroke="#4DBBD5" stroke-width="1.2" stroke-linejoin="round"/>
<polyline points="365.5,812.3 377.9,819.8 383.4,832.9 418.1,854.8 380.5,862.5 365.5,867.7 352.6,870.5 339.3,867.7 307.1,876.2 280.8,856.4 322.6,833.1 324.5,817.4 338.8,811.1" fill="none" stroke="#E64B35" stroke-width="1.2" stroke-linejoin="round"/>
<circle cx="352.6" cy="763.3" r="2.5" fill="#4DBBD5"/>
<circle cx="372" cy="799.3" r="2.5" fill="#4DBBD5"/>
<circle cx="372.9" cy="823.6" r="2.5" fill="#4DBBD5"/>
<circle cx="387.2" cy="832" r="2.5" fill="#4DBBD5"/>
<circle cx="381.7" cy="846.8" r="2.5" fill="#4DBBD5"/>
<circle cx="378.8" cy="861" r="2.5" fill="#4DBBD5"/>
<circle cx="371.6" cy="880.6" r="2.5" fill="#4DBBD5"/>
<circle cx="352.6" cy="877.5" r="2.5" fill="#4DBBD5"/>
<circle cx="342.6" cy="860.5" r="2.5" fill="#4DBBD5"/>
<circle cx="329.5" cy="858.6" r="2.5" fill="#4DBBD5"/>
<circle cx="323.2" cy="847.2" r="2.5" fill="#4DBBD5"/>
<circle cx="313.2" cy="831.2" r="2.5" fill="#4DBBD5"/>
<circle cx="326.1" cy="818.9" r="2.5" fill="#4DBBD5"/>
<circle cx="337.1" cy="807.9" r="2.5" fill="#4DBBD5"/>
<circle cx="365.5" cy="812.3" r="2.5" fill="#E64B35"/>
<circle cx="377.9" cy="819.8" r="2.5" fill="#E64B35"/>
<circle cx="383.4" cy="832.9" r="2.5" fill="#E64B35"/>
<circle cx="418.1" cy="854.8" r="2.5" fill="#E64B35"/>
<circle cx="380.5" cy="862.5" r="2.5" fill="#E64B35"/>
<circle cx="365.5" cy="867.7" r="2.5" fill="#E64B35"/>
<circle cx="352.6" cy="870.5" r="2.5" fill="#E64B35"/>
<circle cx="339.3" cy="867.7" r="2.5" fill="#E64B35"/>
<circle cx="307.1" cy="876.2" r="2.5" fill="#E64B35"/>
<circle cx="280.8" cy="856.4" r="2.5" fill="#E64B35"/>
<circle cx="322.6" cy="833.1" r="2.5" fill="#E64B35"/>
<circle cx="324.5" cy="817.4" r="2.5" fill="#E64B35"/>
<circle cx="338.8" cy="811.1" r="2.5" fill="#E64B35"/>
<polygon points="352.6,763.3 372,799.3 372.9,823.6 387.2,832 381.7,846.8 378.8,861 371.6,880.6 352.6,877.5 342.6,860.5 329.5,858.6 323.2,847.2 313.2,831.2 326.1,818.9 337.1,807.9" fill="#4DBBD5" fill-opacity="0.2" stroke="none"/>
<polygon points="365.5,812.3 377.9,819.8 383.4,832.9 418.1,854.8 380.5,862.5 365.5,867.7 352.6,870.5 339.3,867.7 307.1,876.2 280.8,856.4 322.6,833.1 324.5,817.4 338.8,811.1" fill="#E64B35" fill-opacity="0.2" stroke="none"/>
<text x="348.6" y="765.95" font-size="6.8" text-anchor="end" fill="#333" stroke="#333" stroke-width="0.15">1</text>
<text x="348.6" y="789.22" font-size="6.8" text-anchor="end" fill="#333" stroke="#333" stroke-width="0.15">0.5</text>
<text x="348.6" y="812.49" font-size="6.8" text-anchor="end" fill="#333" stroke="#333" stroke-width="0.15">0</text>
<text x="348.6" y="835.76" font-size="6.8" text-anchor="end" fill="#333" stroke="#333" stroke-width="0.15">-0.5</text>
<text x="352.6" y="755.55" font-size="8.4" text-anchor="middle" fill="#1a1a1a" stroke="#1a1a1a" stroke-width="0.15">CAFs</text>
<text x="389.05" y="767.67" font-size="8.4" fill="#1a1a1a" stroke="#1a1a1a" stroke-width="0.15">NR1D1</text>
<text x="418.27" y="790.98" font-size="8.4" fill="#1a1a1a" stroke="#1a1a1a" stroke-width="0.15">PER1</text>
<text x="434.49" y="824.66" font-size="8.4" fill="#1a1a1a" stroke="#1a1a1a" stroke-width="0.15">CRY1</text>
<text x="434.49" y="862.04" font-size="8.4" fill="#1a1a1a" stroke="#1a1a1a" stroke-width="0.15">CRY2</text>
<text x="418.27" y="895.72" font-size="8.4" fill="#1a1a1a" stroke="#1a1a1a" stroke-width="0.15">PER3</text>
<text x="389.05" y="919.03" font-size="8.4" fill="#1a1a1a" stroke="#1a1a1a" stroke-width="0.15">RORA</text>
<text x="352.6" y="926.65" font-size="8.4" text-anchor="middle" fill="#1a1a1a" stroke="#1a1a1a" stroke-width="0.15">NR1D2</text>
<text x="316.15" y="919.03" font-size="8.4" text-anchor="end" fill="#1a1a1a" stroke="#1a1a1a" stroke-width="0.15">CSNK1D</text>
<text x="286.93" y="895.72" font-size="8.4" text-anchor="end" fill="#1a1a1a" stroke="#1a1a1a" stroke-width="0.15">CSNK1E</text>
<text x="270.71" y="862.04" font-size="8.4" text-anchor="end" fill="#1a1a1a" stroke="#1a1a1a" stroke-width="0.15">PER2</text>
<text x="270.71" y="824.66" font-size="8.4" text-anchor="end" fill="#1a1a1a" stroke="#1a1a1a" stroke-width="0.15">NPAS2</text>
<text x="286.93" y="790.98" font-size="8.4" text-anchor="end" fill="#1a1a1a" stroke="#1a1a1a" stroke-width="0.15">CLOCK</text>
<text x="316.15" y="767.67" font-size="8.4" text-anchor="end" fill="#1a1a1a" stroke="#1a1a1a" stroke-width="0.15">ARNTL</text>
<rect x="309.4" y="934.8" width="8.8" height="8.4" fill="#4DBBD5" fill-opacity="0.2"/>
<line x1="309.4" y1="939" x2="318.2" y2="939" stroke="#4DBBD5" stroke-width="1.2"/>
<circle cx="313.8" cy="939" r="2.5" fill="#4DBBD5"/>
<text x="322.8" y="941.6" font-size="7" fill="#2a2a2a" stroke="#2a2a2a" stroke-width="0.15">Correlation</text>
<rect x="363.1" y="934.8" width="8.8" height="8.4" fill="#E64B35" fill-opacity="0.2"/>
<line x1="363.1" y1="939" x2="371.9" y2="939" stroke="#E64B35" stroke-width="1.2"/>
<circle cx="367.5" cy="939" r="2.5" fill="#E64B35"/>
<text x="376.5" y="941.6" font-size="7" fill="#2a2a2a" stroke="#2a2a2a" stroke-width="0.15">P value</text>
<ellipse cx="582.9" cy="839.2" rx="6.79" ry="7.03" fill="none" stroke="#d6d6d6" stroke-width="0.9"/>
<ellipse cx="582.9" cy="839.2" rx="29.06" ry="30.12" fill="none" stroke="#d6d6d6" stroke-width="0.9"/>
<ellipse cx="582.9" cy="839.2" rx="51.33" ry="53.21" fill="none" stroke="#d6d6d6" stroke-width="0.9"/>
<ellipse cx="582.9" cy="839.2" rx="73.6" ry="76.3" fill="none" stroke="#d6d6d6" stroke-width="0.9"/>
<line x1="582.9" y1="832.17" x2="582.9" y2="762.9" stroke="#d6d6d6" stroke-width="0.9"/>
<line x1="586.29" y1="833.11" x2="619.7" y2="773.12" stroke="#d6d6d6" stroke-width="0.9"/>
<line x1="588.78" y1="835.68" x2="646.64" y2="801.05" stroke="#d6d6d6" stroke-width="0.9"/>
<line x1="589.69" y1="839.2" x2="656.5" y2="839.2" stroke="#d6d6d6" stroke-width="0.9"/>
<line x1="588.78" y1="842.72" x2="646.64" y2="877.35" stroke="#d6d6d6" stroke-width="0.9"/>
<line x1="586.29" y1="845.29" x2="619.7" y2="905.28" stroke="#d6d6d6" stroke-width="0.9"/>
<line x1="582.9" y1="846.23" x2="582.9" y2="915.5" stroke="#d6d6d6" stroke-width="0.9"/>
<line x1="579.51" y1="845.29" x2="546.1" y2="905.28" stroke="#d6d6d6" stroke-width="0.9"/>
<line x1="577.02" y1="842.72" x2="519.16" y2="877.35" stroke="#d6d6d6" stroke-width="0.9"/>
<line x1="576.11" y1="839.2" x2="509.3" y2="839.2" stroke="#d6d6d6" stroke-width="0.9"/>
<line x1="577.02" y1="835.68" x2="519.16" y2="801.05" stroke="#d6d6d6" stroke-width="0.9"/>
<line x1="579.51" y1="833.11" x2="546.1" y2="773.12" stroke="#d6d6d6" stroke-width="0.9"/>
<polygon points="582.6,762.9 601.6,805.6 611.5,822.1 616.3,839.2 608.8,855.3 597.8,867.3 582.6,868 563.7,873.7 548.5,859.7 565,839.2 551.3,820.6 563.3,804.1" fill="none" stroke="#4DBBD5" stroke-width="1.2" stroke-linejoin="round"/>
<polyline points="597.8,812.3 617.7,818.7 617.2,839.2 638.6,873 612.4,892 582.6,892 568,865.8 557.4,854.4 553.2,839.2 556.4,823.1 568,812.6" fill="none" stroke="#E64B35" stroke-width="1.2" stroke-linejoin="round"/>
<circle cx="582.6" cy="762.9" r="2.5" fill="#4DBBD5"/>
<circle cx="601.6" cy="805.6" r="2.5" fill="#4DBBD5"/>
<circle cx="611.5" cy="822.1" r="2.5" fill="#4DBBD5"/>
<circle cx="616.3" cy="839.2" r="2.5" fill="#4DBBD5"/>
<circle cx="608.8" cy="855.3" r="2.5" fill="#4DBBD5"/>
<circle cx="597.8" cy="867.3" r="2.5" fill="#4DBBD5"/>
<circle cx="582.6" cy="868" r="2.5" fill="#4DBBD5"/>
<circle cx="563.7" cy="873.7" r="2.5" fill="#4DBBD5"/>
<circle cx="548.5" cy="859.7" r="2.5" fill="#4DBBD5"/>
<circle cx="565" cy="839.2" r="2.5" fill="#4DBBD5"/>
<circle cx="551.3" cy="820.6" r="2.5" fill="#4DBBD5"/>
<circle cx="563.3" cy="804.1" r="2.5" fill="#4DBBD5"/>
<circle cx="597.8" cy="812.3" r="2.5" fill="#E64B35"/>
<circle cx="617.7" cy="818.7" r="2.5" fill="#E64B35"/>
<circle cx="617.2" cy="839.2" r="2.5" fill="#E64B35"/>
<circle cx="638.6" cy="873" r="2.5" fill="#E64B35"/>
<circle cx="612.4" cy="892" r="2.5" fill="#E64B35"/>
<circle cx="582.6" cy="892" r="2.5" fill="#E64B35"/>
<circle cx="568" cy="865.8" r="2.5" fill="#E64B35"/>
<circle cx="557.4" cy="854.4" r="2.5" fill="#E64B35"/>
<circle cx="553.2" cy="839.2" r="2.5" fill="#E64B35"/>
<circle cx="556.4" cy="823.1" r="2.5" fill="#E64B35"/>
<circle cx="568" cy="812.6" r="2.5" fill="#E64B35"/>
<polygon points="582.6,762.9 601.6,805.6 611.5,822.1 616.3,839.2 608.8,855.3 597.8,867.3 582.6,868 563.7,873.7 548.5,859.7 565,839.2 551.3,820.6 563.3,804.1" fill="#4DBBD5" fill-opacity="0.2" stroke="none"/>
<polygon points="597.8,812.3 617.7,818.7 617.2,839.2 638.6,873 612.4,892 582.6,892 568,865.8 557.4,854.4 553.2,839.2 556.4,823.1 568,812.6" fill="#E64B35" fill-opacity="0.2" stroke="none"/>
<text x="578.9" y="765.7" font-size="6.8" text-anchor="end" fill="#333" stroke="#333" stroke-width="0.15">1</text>
<text x="578.9" y="788.79" font-size="6.8" text-anchor="end" fill="#333" stroke="#333" stroke-width="0.15">0.5</text>
<text x="578.9" y="811.88" font-size="6.8" text-anchor="end" fill="#333" stroke="#333" stroke-width="0.15">0</text>
<text x="578.9" y="834.97" font-size="6.8" text-anchor="end" fill="#333" stroke="#333" stroke-width="0.15">-0.5</text>
<text x="582.9" y="754.7" font-size="8.4" text-anchor="middle" fill="#1a1a1a" stroke="#1a1a1a" stroke-width="0.15">CAFs</text>
<text x="623.9" y="770.01" font-size="8.4" fill="#1a1a1a" stroke="#1a1a1a" stroke-width="0.15">ARNTL</text>
<text x="653.91" y="800.65" font-size="8.4" fill="#1a1a1a" stroke="#1a1a1a" stroke-width="0.15">CLOCK</text>
<text x="664.9" y="842.5" font-size="8.4" fill="#1a1a1a" stroke="#1a1a1a" stroke-width="0.15">CRY1</text>
<text x="653.91" y="884.35" font-size="8.4" fill="#1a1a1a" stroke="#1a1a1a" stroke-width="0.15">CRY2</text>
<text x="623.9" y="914.99" font-size="8.4" fill="#1a1a1a" stroke="#1a1a1a" stroke-width="0.15">CSNK1D</text>
<text x="582.9" y="925.5" font-size="8.4" text-anchor="middle" fill="#1a1a1a" stroke="#1a1a1a" stroke-width="0.15">CSNK1E</text>
<text x="541.9" y="914.99" font-size="8.4" text-anchor="end" fill="#1a1a1a" stroke="#1a1a1a" stroke-width="0.15">NPAS2</text>
<text x="511.89" y="884.35" font-size="8.4" text-anchor="end" fill="#1a1a1a" stroke="#1a1a1a" stroke-width="0.15">NR1D2</text>
<text x="500.9" y="842.5" font-size="8.4" text-anchor="end" fill="#1a1a1a" stroke="#1a1a1a" stroke-width="0.15">PER2</text>
<text x="511.89" y="800.65" font-size="8.4" text-anchor="end" fill="#1a1a1a" stroke="#1a1a1a" stroke-width="0.15">PER3</text>
<text x="541.9" y="770.01" font-size="8.4" text-anchor="end" fill="#1a1a1a" stroke="#1a1a1a" stroke-width="0.15">RORA</text>
<rect x="540.5" y="934.3" width="8.8" height="8.4" fill="#4DBBD5" fill-opacity="0.2"/>
<line x1="540.5" y1="938.5" x2="549.3" y2="938.5" stroke="#4DBBD5" stroke-width="1.2"/>
<circle cx="544.9" cy="938.5" r="2.5" fill="#4DBBD5"/>
<text x="554" y="941.1" font-size="7" fill="#2a2a2a" stroke="#2a2a2a" stroke-width="0.15">Correlation</text>
<rect x="593.1" y="934.3" width="8.8" height="8.4" fill="#E64B35" fill-opacity="0.2"/>
<line x1="593.1" y1="938.5" x2="601.9" y2="938.5" stroke="#E64B35" stroke-width="1.2"/>
<circle cx="597.5" cy="938.5" r="2.5" fill="#E64B35"/>
<text x="606.2" y="941.1" font-size="7" fill="#2a2a2a" stroke="#2a2a2a" stroke-width="0.15">P value</text>
<path d="M520.8 532.6H523V532.6H525.2V532.6H527.75V533.03H530.3V533.47H532.85V533.9H535.4V534.33H537.95V534.77H540.5V535.2H543.1V536.2H545.7V537.2H548.25V537.73H550.8V538.25H553.35V538.77H555.9V539.3H558.45V539.8H561V540.3H563.55V540.8H566.1V541.3H568.65V541.95H571.2V542.6H573.75V543.25H576.3V543.9H578.35V544.3H580.4V544.7H643.8V533H664.7V638.6H643.8V573.2H580.4V570.9H579.6V569.9H577.83V568.9H576.07V567.9H574.3V567.07H572.23V566.23H570.17V565.4H568.1V562.8H566.05V560.2H564V558.17H561.97V556.13H559.93V554.1H557.9V553.08H556.12V552.05H554.35V551.02H552.57V550H550.8V549H549.1V548H547.4V547H545.7V545.63H543.97V544.27H542.23V542.9H540.5V541.46H538.46V540.02H536.42V538.58H534.38V537.14H532.34V535.7H530.3V534.93H528.27V534.15H526.25V533.38H524.23V532.6H522.2V532.6H520.8Z" fill="#4DBBD5" fill-opacity="0.3" stroke="none"/>
<path d="M520.8 532.6H523.2V532.6H524.98V533.5H526.75V534.4H528.52V535.3H530.3V536.2H532.34V536.7H534.38V537.2H536.42V537.7H538.46V538.2H540.5V538.7H542.23V539.73H543.97V540.77H545.7V541.8H547.74V542.52H549.78V543.24H551.82V543.96H553.86V544.68H555.9V545.4H557.92V546.17H559.95V546.95H561.98V547.73H564V548.5H566.07V549.17H568.13V549.83H570.2V550.5H572.25V551.75H574.3V553H576.35V555.55H578.4V558.1H580.4V560.8H620.9V606.8H597.5V591.4H581.4V586H581V584.4H579V582.8H577V581.4H574.6V580H572.2V578.5H570V577H567.8V573.6H565.2V569.5H562.6V567H560.25V564.5H557.9V562.25H554.95V560H552V558.5H549.83V557H547.67V555.5H545.5V551.3H542.8V549.2H540.33V547.1H537.87V545H535.4V543.25H532.55V541.5H529.7V539H527.13V536.5H524.57V534H522V532.6H520.8Z" fill="#E64B35" fill-opacity="0.3" stroke="none"/>
<path d="M520.8 532.6H522V532.6H523.2V532.6H524.98V533.12H526.75V533.65H528.52V534.18H530.3V534.7H532V535.12H533.7V535.53H535.4V535.95H537.1V536.37H538.8V536.78H540.5V537.2H542.23V538.23H543.97V539.27H545.7V540.3H547.4V540.9H549.1V541.5H550.8V542.1H552.5V542.7H554.2V543.3H555.9V543.9H557.52V544.52H559.14V545.14H560.76V545.76H562.38V546.38H564V547H565.55V547.5H567.1V548H568.65V548.5H570.2V549H571.57V549.83H572.93V550.67H574.3V551.5H575.67V553.2H577.03V554.9H578.4V556.6H580.4V560.2H643.8V605H664.7" fill="none" stroke="#4DBBD5" stroke-width="1.6"/>
<path d="M520.8 532.6H522.2V532.6H523.82V533.52H525.44V534.44H527.06V535.36H528.68V536.28H530.3V537.2H532V538.4H533.7V539.6H535.4V540.8H537.1V542H538.8V543.2H540.5V544.4H542.23V545.77H543.97V547.13H545.7V548.5H547.4V549.5H549.1V550.5H550.8V551.5H552.57V552.52H554.35V553.55H556.12V554.58H557.9V555.6H559.42V557.12H560.95V558.65H562.48V560.18H564V561.7H565.37V563.43H566.73V565.17H568.1V566.9H569.65V567.52H571.2V568.15H572.75V568.77H574.3V569.4H576.07V570.4H577.83V571.4H579.6V572.4H581.6V577.3H597.5V588.1H622.3" fill="none" stroke="#E64B35" stroke-width="1.6"/>
<line x1="523" y1="530.6" x2="523" y2="534.6" stroke="#4DBBD5" stroke-width="1.0"/>
<line x1="524.21" y1="530.6" x2="524.21" y2="534.6" stroke="#4DBBD5" stroke-width="1.0"/>
<line x1="525.43" y1="531.12" x2="525.43" y2="535.12" stroke="#4DBBD5" stroke-width="1.0"/>
<line x1="526.64" y1="531.12" x2="526.64" y2="535.12" stroke="#4DBBD5" stroke-width="1.0"/>
<line x1="527.85" y1="531.65" x2="527.85" y2="535.65" stroke="#4DBBD5" stroke-width="1.0"/>
<line x1="529.06" y1="532.18" x2="529.06" y2="536.18" stroke="#4DBBD5" stroke-width="1.0"/>
<line x1="530.28" y1="532.18" x2="530.28" y2="536.18" stroke="#4DBBD5" stroke-width="1.0"/>
<line x1="531.49" y1="532.7" x2="531.49" y2="536.7" stroke="#4DBBD5" stroke-width="1.0"/>
<line x1="532.7" y1="533.12" x2="532.7" y2="537.12" stroke="#4DBBD5" stroke-width="1.0"/>
<line x1="533.91" y1="533.53" x2="533.91" y2="537.53" stroke="#4DBBD5" stroke-width="1.0"/>
<line x1="535.13" y1="533.53" x2="535.13" y2="537.53" stroke="#4DBBD5" stroke-width="1.0"/>
<line x1="536.34" y1="533.95" x2="536.34" y2="537.95" stroke="#4DBBD5" stroke-width="1.0"/>
<line x1="537.55" y1="534.37" x2="537.55" y2="538.37" stroke="#4DBBD5" stroke-width="1.0"/>
<line x1="538.77" y1="534.37" x2="538.77" y2="538.37" stroke="#4DBBD5" stroke-width="1.0"/>
<line x1="539.98" y1="534.78" x2="539.98" y2="538.78" stroke="#4DBBD5" stroke-width="1.0"/>
<line x1="541.19" y1="535.2" x2="541.19" y2="539.2" stroke="#4DBBD5" stroke-width="1.0"/>
<line x1="542.4" y1="536.23" x2="542.4" y2="540.23" stroke="#4DBBD5" stroke-width="1.0"/>
<line x1="543.62" y1="536.23" x2="543.62" y2="540.23" stroke="#4DBBD5" stroke-width="1.0"/>
<line x1="544.83" y1="537.27" x2="544.83" y2="541.27" stroke="#4DBBD5" stroke-width="1.0"/>
<line x1="546.04" y1="538.3" x2="546.04" y2="542.3" stroke="#4DBBD5" stroke-width="1.0"/>
<line x1="547.26" y1="538.3" x2="547.26" y2="542.3" stroke="#4DBBD5" stroke-width="1.0"/>
<line x1="548.47" y1="538.9" x2="548.47" y2="542.9" stroke="#4DBBD5" stroke-width="1.0"/>
<line x1="549.68" y1="539.5" x2="549.68" y2="543.5" stroke="#4DBBD5" stroke-width="1.0"/>
<line x1="550.89" y1="540.1" x2="550.89" y2="544.1" stroke="#4DBBD5" stroke-width="1.0"/>
<line x1="552.11" y1="540.1" x2="552.11" y2="544.1" stroke="#4DBBD5" stroke-width="1.0"/>
<line x1="553.32" y1="540.7" x2="553.32" y2="544.7" stroke="#4DBBD5" stroke-width="1.0"/>
<line x1="554.53" y1="541.3" x2="554.53" y2="545.3" stroke="#4DBBD5" stroke-width="1.0"/>
<line x1="555.74" y1="541.3" x2="555.74" y2="545.3" stroke="#4DBBD5" stroke-width="1.0"/>
<line x1="556.96" y1="541.9" x2="556.96" y2="545.9" stroke="#4DBBD5" stroke-width="1.0"/>
<line x1="558.17" y1="542.52" x2="558.17" y2="546.52" stroke="#4DBBD5" stroke-width="1.0"/>
<line x1="559.38" y1="543.14" x2="559.38" y2="547.14" stroke="#4DBBD5" stroke-width="1.0"/>
<line x1="560.6" y1="543.14" x2="560.6" y2="547.14" stroke="#4DBBD5" stroke-width="1.0"/>
<line x1="561.81" y1="543.76" x2="561.81" y2="547.76" stroke="#4DBBD5" stroke-width="1.0"/>
<line x1="563.02" y1="544.38" x2="563.02" y2="548.38" stroke="#4DBBD5" stroke-width="1.0"/>
<line x1="564.23" y1="545" x2="564.23" y2="549" stroke="#4DBBD5" stroke-width="1.0"/>
<line x1="565.45" y1="545" x2="565.45" y2="549" stroke="#4DBBD5" stroke-width="1.0"/>
<line x1="566.66" y1="545.5" x2="566.66" y2="549.5" stroke="#4DBBD5" stroke-width="1.0"/>
<line x1="567.87" y1="546" x2="567.87" y2="550" stroke="#4DBBD5" stroke-width="1.0"/>
<line x1="569.09" y1="546.5" x2="569.09" y2="550.5" stroke="#4DBBD5" stroke-width="1.0"/>
<line x1="570.3" y1="547" x2="570.3" y2="551" stroke="#4DBBD5" stroke-width="1.0"/>
<line x1="571.51" y1="547" x2="571.51" y2="551" stroke="#4DBBD5" stroke-width="1.0"/>
<line x1="572.72" y1="547.83" x2="572.72" y2="551.83" stroke="#4DBBD5" stroke-width="1.0"/>
<line x1="573.94" y1="548.67" x2="573.94" y2="552.67" stroke="#4DBBD5" stroke-width="1.0"/>
<line x1="575.15" y1="549.5" x2="575.15" y2="553.5" stroke="#4DBBD5" stroke-width="1.0"/>
<line x1="576.36" y1="551.2" x2="576.36" y2="555.2" stroke="#4DBBD5" stroke-width="1.0"/>
<line x1="577.57" y1="552.9" x2="577.57" y2="556.9" stroke="#4DBBD5" stroke-width="1.0"/>
<line x1="578.79" y1="554.6" x2="578.79" y2="558.6" stroke="#4DBBD5" stroke-width="1.0"/>
<line x1="580" y1="554.6" x2="580" y2="558.6" stroke="#4DBBD5" stroke-width="1.0"/>
<line x1="581" y1="558.2" x2="581" y2="562.2" stroke="#4DBBD5" stroke-width="1.0"/>
<line x1="582" y1="558.2" x2="582" y2="562.2" stroke="#4DBBD5" stroke-width="1.0"/>
<line x1="585" y1="558.2" x2="585" y2="562.2" stroke="#4DBBD5" stroke-width="1.0"/>
<line x1="586.5" y1="558.2" x2="586.5" y2="562.2" stroke="#4DBBD5" stroke-width="1.0"/>
<line x1="591.7" y1="558.2" x2="591.7" y2="562.2" stroke="#4DBBD5" stroke-width="1.0"/>
<line x1="593" y1="558.2" x2="593" y2="562.2" stroke="#4DBBD5" stroke-width="1.0"/>
<line x1="594.5" y1="558.2" x2="594.5" y2="562.2" stroke="#4DBBD5" stroke-width="1.0"/>
<line x1="596" y1="558.2" x2="596" y2="562.2" stroke="#4DBBD5" stroke-width="1.0"/>
<line x1="601.9" y1="558.2" x2="601.9" y2="562.2" stroke="#4DBBD5" stroke-width="1.0"/>
<line x1="619.4" y1="558.2" x2="619.4" y2="562.2" stroke="#4DBBD5" stroke-width="1.0"/>
<line x1="623.8" y1="558.2" x2="623.8" y2="562.2" stroke="#4DBBD5" stroke-width="1.0"/>
<line x1="625.3" y1="558.2" x2="625.3" y2="562.2" stroke="#4DBBD5" stroke-width="1.0"/>
<line x1="626.7" y1="558.2" x2="626.7" y2="562.2" stroke="#4DBBD5" stroke-width="1.0"/>
<line x1="642.8" y1="558.2" x2="642.8" y2="562.2" stroke="#4DBBD5" stroke-width="1.0"/>
<line x1="664.7" y1="603" x2="664.7" y2="607" stroke="#4DBBD5" stroke-width="1.0"/>
<line x1="521.5" y1="530.6" x2="521.5" y2="534.6" stroke="#E64B35" stroke-width="1.0"/>
<line x1="522.51" y1="530.6" x2="522.51" y2="534.6" stroke="#E64B35" stroke-width="1.0"/>
<line x1="523.52" y1="530.6" x2="523.52" y2="534.6" stroke="#E64B35" stroke-width="1.0"/>
<line x1="524.53" y1="531.52" x2="524.53" y2="535.52" stroke="#E64B35" stroke-width="1.0"/>
<line x1="525.53" y1="532.44" x2="525.53" y2="536.44" stroke="#E64B35" stroke-width="1.0"/>
<line x1="526.54" y1="532.44" x2="526.54" y2="536.44" stroke="#E64B35" stroke-width="1.0"/>
<line x1="527.55" y1="533.36" x2="527.55" y2="537.36" stroke="#E64B35" stroke-width="1.0"/>
<line x1="528.56" y1="533.36" x2="528.56" y2="537.36" stroke="#E64B35" stroke-width="1.0"/>
<line x1="529.57" y1="534.28" x2="529.57" y2="538.28" stroke="#E64B35" stroke-width="1.0"/>
<line x1="530.58" y1="535.2" x2="530.58" y2="539.2" stroke="#E64B35" stroke-width="1.0"/>
<line x1="531.58" y1="535.2" x2="531.58" y2="539.2" stroke="#E64B35" stroke-width="1.0"/>
<line x1="532.59" y1="536.4" x2="532.59" y2="540.4" stroke="#E64B35" stroke-width="1.0"/>
<line x1="533.6" y1="536.4" x2="533.6" y2="540.4" stroke="#E64B35" stroke-width="1.0"/>
<line x1="534.61" y1="537.6" x2="534.61" y2="541.6" stroke="#E64B35" stroke-width="1.0"/>
<line x1="535.62" y1="538.8" x2="535.62" y2="542.8" stroke="#E64B35" stroke-width="1.0"/>
<line x1="536.63" y1="538.8" x2="536.63" y2="542.8" stroke="#E64B35" stroke-width="1.0"/>
<line x1="537.64" y1="540" x2="537.64" y2="544" stroke="#E64B35" stroke-width="1.0"/>
<line x1="538.64" y1="540" x2="538.64" y2="544" stroke="#E64B35" stroke-width="1.0"/>
<line x1="539.65" y1="541.2" x2="539.65" y2="545.2" stroke="#E64B35" stroke-width="1.0"/>
<line x1="540.66" y1="542.4" x2="540.66" y2="546.4" stroke="#E64B35" stroke-width="1.0"/>
<line x1="541.67" y1="542.4" x2="541.67" y2="546.4" stroke="#E64B35" stroke-width="1.0"/>
<line x1="542.68" y1="543.77" x2="542.68" y2="547.77" stroke="#E64B35" stroke-width="1.0"/>
<line x1="543.69" y1="543.77" x2="543.69" y2="547.77" stroke="#E64B35" stroke-width="1.0"/>
<line x1="544.69" y1="545.13" x2="544.69" y2="549.13" stroke="#E64B35" stroke-width="1.0"/>
<line x1="545.7" y1="546.5" x2="545.7" y2="550.5" stroke="#E64B35" stroke-width="1.0"/>
<line x1="546.71" y1="546.5" x2="546.71" y2="550.5" stroke="#E64B35" stroke-width="1.0"/>
<line x1="547.72" y1="547.5" x2="547.72" y2="551.5" stroke="#E64B35" stroke-width="1.0"/>
<line x1="548.73" y1="547.5" x2="548.73" y2="551.5" stroke="#E64B35" stroke-width="1.0"/>
<line x1="549.74" y1="548.5" x2="549.74" y2="552.5" stroke="#E64B35" stroke-width="1.0"/>
<line x1="550.75" y1="548.5" x2="550.75" y2="552.5" stroke="#E64B35" stroke-width="1.0"/>
<line x1="551.75" y1="549.5" x2="551.75" y2="553.5" stroke="#E64B35" stroke-width="1.0"/>
<line x1="552.76" y1="550.52" x2="552.76" y2="554.52" stroke="#E64B35" stroke-width="1.0"/>
<line x1="553.77" y1="550.52" x2="553.77" y2="554.52" stroke="#E64B35" stroke-width="1.0"/>
<line x1="554.78" y1="551.55" x2="554.78" y2="555.55" stroke="#E64B35" stroke-width="1.0"/>
<line x1="555.79" y1="551.55" x2="555.79" y2="555.55" stroke="#E64B35" stroke-width="1.0"/>
<line x1="556.8" y1="552.58" x2="556.8" y2="556.58" stroke="#E64B35" stroke-width="1.0"/>
<line x1="557.81" y1="552.58" x2="557.81" y2="556.58" stroke="#E64B35" stroke-width="1.0"/>
<line x1="558.81" y1="553.6" x2="558.81" y2="557.6" stroke="#E64B35" stroke-width="1.0"/>
<line x1="559.82" y1="555.12" x2="559.82" y2="559.12" stroke="#E64B35" stroke-width="1.0"/>
<line x1="560.83" y1="555.12" x2="560.83" y2="559.12" stroke="#E64B35" stroke-width="1.0"/>
<line x1="561.84" y1="556.65" x2="561.84" y2="560.65" stroke="#E64B35" stroke-width="1.0"/>
<line x1="562.85" y1="558.18" x2="562.85" y2="562.18" stroke="#E64B35" stroke-width="1.0"/>
<line x1="563.86" y1="558.18" x2="563.86" y2="562.18" stroke="#E64B35" stroke-width="1.0"/>
<line x1="564.86" y1="559.7" x2="564.86" y2="563.7" stroke="#E64B35" stroke-width="1.0"/>
<line x1="565.87" y1="561.43" x2="565.87" y2="565.43" stroke="#E64B35" stroke-width="1.0"/>
<line x1="566.88" y1="563.17" x2="566.88" y2="567.17" stroke="#E64B35" stroke-width="1.0"/>
<line x1="567.89" y1="563.17" x2="567.89" y2="567.17" stroke="#E64B35" stroke-width="1.0"/>
<line x1="568.9" y1="564.9" x2="568.9" y2="568.9" stroke="#E64B35" stroke-width="1.0"/>
<line x1="569.91" y1="565.52" x2="569.91" y2="569.52" stroke="#E64B35" stroke-width="1.0"/>
<line x1="570.92" y1="565.52" x2="570.92" y2="569.52" stroke="#E64B35" stroke-width="1.0"/>
<line x1="571.92" y1="566.15" x2="571.92" y2="570.15" stroke="#E64B35" stroke-width="1.0"/>
<line x1="572.93" y1="566.77" x2="572.93" y2="570.77" stroke="#E64B35" stroke-width="1.0"/>
<line x1="573.94" y1="566.77" x2="573.94" y2="570.77" stroke="#E64B35" stroke-width="1.0"/>
<line x1="574.95" y1="567.4" x2="574.95" y2="571.4" stroke="#E64B35" stroke-width="1.0"/>
<line x1="575.96" y1="567.4" x2="575.96" y2="571.4" stroke="#E64B35" stroke-width="1.0"/>
<line x1="576.97" y1="568.4" x2="576.97" y2="572.4" stroke="#E64B35" stroke-width="1.0"/>
<line x1="577.97" y1="569.4" x2="577.97" y2="573.4" stroke="#E64B35" stroke-width="1.0"/>
<line x1="578.98" y1="569.4" x2="578.98" y2="573.4" stroke="#E64B35" stroke-width="1.0"/>
<line x1="579.99" y1="570.4" x2="579.99" y2="574.4" stroke="#E64B35" stroke-width="1.0"/>
<line x1="581" y1="570.4" x2="581" y2="574.4" stroke="#E64B35" stroke-width="1.0"/>
<line x1="584.4" y1="575.3" x2="584.4" y2="579.3" stroke="#E64B35" stroke-width="1.0"/>
<line x1="588" y1="575.3" x2="588" y2="579.3" stroke="#E64B35" stroke-width="1.0"/>
<line x1="588.8" y1="575.3" x2="588.8" y2="579.3" stroke="#E64B35" stroke-width="1.0"/>
<line x1="591" y1="575.3" x2="591" y2="579.3" stroke="#E64B35" stroke-width="1.0"/>
<line x1="591.7" y1="575.3" x2="591.7" y2="579.3" stroke="#E64B35" stroke-width="1.0"/>
<line x1="592.4" y1="575.3" x2="592.4" y2="579.3" stroke="#E64B35" stroke-width="1.0"/>
<line x1="594.6" y1="575.3" x2="594.6" y2="579.3" stroke="#E64B35" stroke-width="1.0"/>
<line x1="596" y1="575.3" x2="596" y2="579.3" stroke="#E64B35" stroke-width="1.0"/>
<line x1="597.6" y1="586.1" x2="597.6" y2="590.1" stroke="#E64B35" stroke-width="1.0"/>
<line x1="602.6" y1="586.1" x2="602.6" y2="590.1" stroke="#E64B35" stroke-width="1.0"/>
<line x1="609.2" y1="586.1" x2="609.2" y2="590.1" stroke="#E64B35" stroke-width="1.0"/>
<line x1="615.8" y1="586.1" x2="615.8" y2="590.1" stroke="#E64B35" stroke-width="1.0"/>
<line x1="618" y1="586.1" x2="618" y2="590.1" stroke="#E64B35" stroke-width="1.0"/>
<line x1="621.6" y1="586.1" x2="621.6" y2="590.1" stroke="#E64B35" stroke-width="1.0"/>
<line x1="513.4" y1="527.3" x2="513.4" y2="656.55" stroke="#000" stroke-width="1.1"/>
<line x1="512.85" y1="656" x2="671.2" y2="656" stroke="#000" stroke-width="1.1"/>
<line x1="510.2" y1="650" x2="513.4" y2="650" stroke="#000" stroke-width="1.1"/>
<text x="506.2" y="653.3" font-size="8.2" text-anchor="end" fill="#1a1a1a" stroke="#1a1a1a" stroke-width="0.15">0.0</text>
<line x1="510.2" y1="626.62" x2="513.4" y2="626.62" stroke="#000" stroke-width="1.1"/>
<text x="506.2" y="629.92" font-size="8.2" text-anchor="end" fill="#1a1a1a" stroke="#1a1a1a" stroke-width="0.15">0.2</text>
<line x1="510.2" y1="603.24" x2="513.4" y2="603.24" stroke="#000" stroke-width="1.1"/>
<text x="506.2" y="606.54" font-size="8.2" text-anchor="end" fill="#1a1a1a" stroke="#1a1a1a" stroke-width="0.15">0.4</text>
<line x1="510.2" y1="579.86" x2="513.4" y2="579.86" stroke="#000" stroke-width="1.1"/>
<text x="506.2" y="583.16" font-size="8.2" text-anchor="end" fill="#1a1a1a" stroke="#1a1a1a" stroke-width="0.15">0.6</text>
<line x1="510.2" y1="556.48" x2="513.4" y2="556.48" stroke="#000" stroke-width="1.1"/>
<text x="506.2" y="559.78" font-size="8.2" text-anchor="end" fill="#1a1a1a" stroke="#1a1a1a" stroke-width="0.15">0.8</text>
<line x1="510.2" y1="533.1" x2="513.4" y2="533.1" stroke="#000" stroke-width="1.1"/>
<text x="506.2" y="536.4" font-size="8.2" text-anchor="end" fill="#1a1a1a" stroke="#1a1a1a" stroke-width="0.15">1.0</text>
<line x1="520.8" y1="656" x2="520.8" y2="659.4" stroke="#000" stroke-width="1.1"/>
<text x="520.8" y="669.4" font-size="8.2" text-anchor="middle" fill="#1a1a1a" stroke="#1a1a1a" stroke-width="0.15">0</text>
<line x1="555.3" y1="656" x2="555.3" y2="659.4" stroke="#000" stroke-width="1.1"/>
<text x="555.3" y="669.4" font-size="8.2" text-anchor="middle" fill="#1a1a1a" stroke="#1a1a1a" stroke-width="0.15">100</text>
<line x1="589.8" y1="656" x2="589.8" y2="659.4" stroke="#000" stroke-width="1.1"/>
<text x="589.8" y="669.4" font-size="8.2" text-anchor="middle" fill="#1a1a1a" stroke="#1a1a1a" stroke-width="0.15">200</text>
<line x1="624.3" y1="656" x2="624.3" y2="659.4" stroke="#000" stroke-width="1.1"/>
<text x="624.3" y="669.4" font-size="8.2" text-anchor="middle" fill="#1a1a1a" stroke="#1a1a1a" stroke-width="0.15">300</text>
<line x1="658.8" y1="656" x2="658.8" y2="659.4" stroke="#000" stroke-width="1.1"/>
<text x="658.8" y="669.4" font-size="8.2" text-anchor="middle" fill="#1a1a1a" stroke="#1a1a1a" stroke-width="0.15">400</text>
<text x="592.7" y="682" font-size="9.7" text-anchor="middle" fill="#111" stroke="#111" stroke-width="0.15">Time (m)</text>
<text x="488.9" y="591.4" font-size="9.7" text-anchor="middle" fill="#111" stroke="#111" stroke-width="0.15" transform="rotate(-90 488.9 591.4)">BCR-free survival</text>
<text x="520.6" y="640" font-size="7.1" fill="#1a1a1a" stroke="#1a1a1a" stroke-width="0.15">HR = 1.97 (1.18-3.30)</text>
<text x="520.6" y="650.4" font-size="7.1" fill="#1a1a1a" stroke="#1a1a1a" stroke-width="0.15">Log-rank P = 0.012</text>
<rect x="631.9" y="533.1" width="13.9" height="7.9" fill="#4DBBD5" fill-opacity="0.3"/>
<line x1="632.7" y1="537.05" x2="645" y2="537.05" stroke="#4DBBD5" stroke-width="1.2"/>
<line x1="638.85" y1="534.45" x2="638.85" y2="539.65" stroke="#4DBBD5" stroke-width="1.1"/>
<text x="651.1" y="539.55" font-size="7.0" fill="#1a1a1a" stroke="#1a1a1a" stroke-width="0.15">Low</text>
<rect x="631.9" y="543" width="13.9" height="7.9" fill="#E64B35" fill-opacity="0.3"/>
<line x1="632.7" y1="546.95" x2="645" y2="546.95" stroke="#E64B35" stroke-width="1.2"/>
<line x1="638.85" y1="544.35" x2="638.85" y2="549.55" stroke="#E64B35" stroke-width="1.1"/>
<text x="651.1" y="549.45" font-size="7.0" fill="#1a1a1a" stroke="#1a1a1a" stroke-width="0.15">High</text>
<line x1="520.1" y1="685.5" x2="520.1" y2="719.9" stroke="#ececec" stroke-width="0.8"/>
<line x1="538.18" y1="685.5" x2="538.18" y2="719.9" stroke="#ececec" stroke-width="0.8"/>
<line x1="556.25" y1="685.5" x2="556.25" y2="719.9" stroke="#ececec" stroke-width="0.8"/>
<line x1="574.33" y1="685.5" x2="574.33" y2="719.9" stroke="#ececec" stroke-width="0.8"/>
<line x1="592.4" y1="685.5" x2="592.4" y2="719.9" stroke="#ececec" stroke-width="0.8"/>
<line x1="610.48" y1="685.5" x2="610.48" y2="719.9" stroke="#ececec" stroke-width="0.8"/>
<line x1="628.55" y1="685.5" x2="628.55" y2="719.9" stroke="#ececec" stroke-width="0.8"/>
<line x1="646.62" y1="685.5" x2="646.62" y2="719.9" stroke="#ececec" stroke-width="0.8"/>
<line x1="664.7" y1="685.5" x2="664.7" y2="719.9" stroke="#ececec" stroke-width="0.8"/>
<line x1="513.5" y1="694.5" x2="672" y2="694.5" stroke="#ececec" stroke-width="0.8"/>
<line x1="513.5" y1="709.8" x2="672" y2="709.8" stroke="#ececec" stroke-width="0.8"/>
<rect x="513.5" y="685.5" width="158.5" height="34.4" fill="none" stroke="#111" stroke-width="1.2"/>
<text x="506.7" y="697.2" font-size="8.5" text-anchor="end" fill="#4DBBD5" stroke="#4DBBD5" stroke-width="0.15">Low</text>
<text x="520.1" y="697.9" font-size="8.5" text-anchor="middle" fill="#4DBBD5" stroke="#4DBBD5" stroke-width="0.15">215</text>
<text x="556.25" y="697.9" font-size="8.5" text-anchor="middle" fill="#4DBBD5" stroke="#4DBBD5" stroke-width="0.15">70</text>
<text x="592.4" y="697.9" font-size="8.5" text-anchor="middle" fill="#4DBBD5" stroke="#4DBBD5" stroke-width="0.15">12</text>
<text x="628.55" y="697.9" font-size="8.5" text-anchor="middle" fill="#4DBBD5" stroke="#4DBBD5" stroke-width="0.15">5</text>
<text x="664.7" y="697.9" font-size="8.5" text-anchor="middle" fill="#4DBBD5" stroke="#4DBBD5" stroke-width="0.15">1</text>
<text x="506.7" y="713" font-size="8.5" text-anchor="end" fill="#E64B35" stroke="#E64B35" stroke-width="0.15">High</text>
<text x="520.1" y="713.8" font-size="8.5" text-anchor="middle" fill="#E64B35" stroke="#E64B35" stroke-width="0.15">215</text>
<text x="556.25" y="713.8" font-size="8.5" text-anchor="middle" fill="#E64B35" stroke="#E64B35" stroke-width="0.15">65</text>
<text x="592.4" y="713.8" font-size="8.5" text-anchor="middle" fill="#E64B35" stroke="#E64B35" stroke-width="0.15">13</text>
<text x="628.55" y="713.8" font-size="8.5" text-anchor="middle" fill="#E64B35" stroke="#E64B35" stroke-width="0.15">0</text>
<text x="664.7" y="713.8" font-size="8.5" text-anchor="middle" fill="#E64B35" stroke="#E64B35" stroke-width="0.15">0</text>
<path d="M62.2 752.6H64.42V752.63H66.65V752.65H68.87V752.68H71.09V752.7H73.31V752.73H75.54V752.75H77.76V752.78H79.98V752.81H82.21V752.83H84.43V752.86H86.65V752.88H88.87V752.91H91.1V752.93H93.32V752.96H95.54V752.99H97.77V753.01H99.99V753.04H102.21V753.06H104.43V753.09H106.66V753.11H108.88V753.14H111.1V753.17H113.33V753.19H115.55V753.22H117.77V753.24H119.99V753.27H122.22V753.29H124.44V753.32H126.66V753.35H128.89V753.37H131.11V753.4H133.33V753.42H135.55V753.45H137.78V753.47H140V753.5H142V754H144V754.5H146V755H148.25V755.38H150.5V755.75H152.75V756.12H155V756.5H157.5V757.5H160V758.5H162.5V759.5H165V760.17H167.5V760.83H170V761.5H172V761.98H174V762.45H176V762.92H178V763.4H180V764.7H182V766H184V770.6H219.5V798.9H199.1V788.4H184.7V775H183.4V774.5H181.02V774H178.64V773.5H176.26V773H173.88V772.5H171.5V770.5H168.9V768.5H166.3V767.5H164.1V766.5H161.9V765.5H159.7V765.14H157.46V764.79H155.21V764.43H152.97V764.07H150.73V763.71H148.49V763.36H146.24V763H144V762.5H141.88V762H139.76V761.5H137.64V761H135.52V760.5H133.4V760.2H131.06V759.9H128.72V759.6H126.38V759.3H124.04V759H121.7V758.81H119.6V758.62H117.5V758.44H115.4V758.25H113.3V758.06H111.2V757.88H109.1V757.69H107V757.5H104.9V756.83H102.73V756.17H100.57V755.5H98.4V754.5H96.4V753.5H94.4V753.44H92.25V753.38H90.11V753.32H87.96V753.26H85.81V753.2H83.67V753.14H81.52V753.08H79.37V753.02H77.23V752.96H75.08V752.9H72.93V752.84H70.79V752.78H68.64V752.72H66.49V752.66H64.35V752.6H62.2Z" fill="#4DBBD5" fill-opacity="0.3" stroke="none"/>
<path d="M62.2 752.6H64.35V752.66H66.49V752.72H68.64V752.78H70.79V752.84H72.93V752.9H75.08V752.96H77.23V753.02H79.37V753.08H81.52V753.14H83.67V753.2H85.81V753.26H87.96V753.32H90.11V753.38H92.25V753.44H94.4V753.5H96.27V754H98.13V754.5H100V755H102.53V755.83H105.07V756.67H107.6V757.5H109.81V757.72H112.02V757.94H114.23V758.17H116.44V758.39H118.66V758.61H120.87V758.83H123.08V759.06H125.29V759.28H127.5V759.5H129.85V760.62H132.2V761.75H134.55V762.88H136.9V764H138.93V765.38H140.95V766.75H142.97V768.12H145V769.5H147V769.9H149V770.3H151V770.7H153V771.1H155V771.5H157.2V771.9H159.4V772.3H161.6V772.7H163.8V773.1H166V773.5H168.38V774.12H170.75V774.75H173.12V775.38H175.5V776H177.8V776.62H180.1V777.25H182.4V777.88H184.7V778.5H186.76V778.93H188.81V779.36H190.87V779.79H192.93V780.21H194.99V780.64H197.04V781.07H199.1V781.5H214.2V806.8H188.6V797.5H180.1V796.8H177.76V796.1H175.42V795.4H173.08V794.7H170.74V794H168.4V793.12H166.22V792.25H164.05V791.38H161.88V790.5H159.7V790H157.64V789.5H155.59V789H153.53V788.5H151.47V788H149.41V787.5H147.36V787H145.3V785H142.65V783H140V781.5H137.75V780H135.5V778.5H133.25V777H131V775.6H128.66V774.2H126.32V772.8H123.98V771.4H121.64V770H119.3V769H116.96V768H114.62V767H112.28V766H109.94V765H107.6V764H105.4V763H103.2V762H101V759H98.4V757H96.4V755H94.4V754.84H92.25V754.68H90.11V754.52H87.96V754.36H85.81V754.2H83.67V754.04H81.52V753.88H79.37V753.72H77.23V753.56H75.08V753.4H72.93V753.24H70.79V753.08H68.64V752.92H66.49V752.76H64.35V752.6H62.2Z" fill="#E64B35" fill-opacity="0.3" stroke="none"/>
<path d="M62.2 752.6H63.83V752.6H65.45V752.6H67.08V752.6H68.71V752.6H70.33V752.6H71.96V752.6H73.58V752.6H75.21V752.6H76.84V752.6H78.46V752.6H80.09V752.6H81.72V752.6H83.34V752.6H84.97V752.6H86.59V752.6H88.22V752.6H89.85V752.6H91.47V752.6H93.1V752.6H93.1V753.5H94.75V753.85H96.4V754.2H98.05V754.55H99.7V754.9H101.36V755.12H103.02V755.34H104.68V755.56H106.34V755.78H108V756H109.71V756.1H111.42V756.2H113.14V756.3H114.85V756.4H116.56V756.5H118.28V756.6H119.99V756.7H121.7V756.8H123.55V756.94H125.4V757.08H127.25V757.22H129.1V757.37H130.95V757.51H132.8V757.65H134.65V757.79H136.5V757.93H138.35V758.08H140.2V758.22H142.05V758.36H143.9V758.5H145.43V758.97H146.97V759.43H148.5V759.9H150.45V760.15H152.4V760.4H154.35V760.65H156.3V760.9H158.25V761.15H160.2V761.4H161.77V762H163.33V762.6H164.9V763.2H166.68V763.65H168.45V764.1H170.22V764.55H172V765H174.03V765.5H176.05V766H178.07V766.5H180.1V767H182.5V770H184.7V772H186V776H188V778.5H189.96V779.02H191.92V779.54H193.88V780.06H195.84V780.58H197.8V781.1H199.57V781.77H201.33V782.43H203.1V783.1H204.4V786.4H221.5" fill="none" stroke="#4DBBD5" stroke-width="1.3"/>
<path d="M62.2 752.6H63.83V752.6H65.45V752.6H67.08V752.6H68.71V752.6H70.33V752.6H71.96V752.6H73.58V752.6H75.21V752.6H76.84V752.6H78.46V752.6H80.09V752.6H81.72V752.6H83.34V752.6H84.97V752.6H86.59V752.6H88.22V752.6H89.85V752.6H91.47V752.6H93.1V752.6H94.4V754.9H97V757.5H98.35V758.5H99.7V759.5H101.65V760.45H103.6V761.4H105.2V761.7H106.8V762H108.4V762.3H110V762.6H111.64V763.42H113.28V764.24H114.92V765.06H116.56V765.88H118.2V766.7H119.87V767.29H121.54V767.87H123.21V768.46H124.89V769.04H126.56V769.63H128.23V770.21H129.9V770.8H131.65V771.85H133.4V772.9H135.15V773.95H136.9V775H138.93V776H140.95V777H142.97V778H145V779H147V779.62H149V780.25H151V780.88H153V781.5H154.92V781.9H156.84V782.3H158.76V782.7H160.68V783.1H162.6V783.5H164.53V784H166.47V784.5H168.4V785H170.33V785.5H172.27V786H174.2V786.5H176.15V787.25H178.1V788H180.05V788.75H182V789.5H183.65V791.02H185.3V792.55H186.95V794.08H188.6V795.6H216.2" fill="none" stroke="#E64B35" stroke-width="1.3"/>
<line x1="88.5" y1="750.6" x2="88.5" y2="754.6" stroke="#4DBBD5" stroke-width="1.0"/>
<line x1="93" y1="750.6" x2="93" y2="754.6" stroke="#4DBBD5" stroke-width="1.0"/>
<line x1="101" y1="752.9" x2="101" y2="756.9" stroke="#4DBBD5" stroke-width="1.0"/>
<line x1="106.2" y1="753.56" x2="106.2" y2="757.56" stroke="#4DBBD5" stroke-width="1.0"/>
<line x1="116" y1="754.4" x2="116" y2="758.4" stroke="#4DBBD5" stroke-width="1.0"/>
<line x1="121.7" y1="754.8" x2="121.7" y2="758.8" stroke="#4DBBD5" stroke-width="1.0"/>
<line x1="134.5" y1="755.65" x2="134.5" y2="759.65" stroke="#4DBBD5" stroke-width="1.0"/>
<line x1="145" y1="756.5" x2="145" y2="760.5" stroke="#4DBBD5" stroke-width="1.0"/>
<line x1="147.05" y1="757.43" x2="147.05" y2="761.43" stroke="#4DBBD5" stroke-width="1.0"/>
<line x1="149.1" y1="757.9" x2="149.1" y2="761.9" stroke="#4DBBD5" stroke-width="1.0"/>
<line x1="151.15" y1="758.15" x2="151.15" y2="762.15" stroke="#4DBBD5" stroke-width="1.0"/>
<line x1="153.2" y1="758.4" x2="153.2" y2="762.4" stroke="#4DBBD5" stroke-width="1.0"/>
<line x1="155.25" y1="758.65" x2="155.25" y2="762.65" stroke="#4DBBD5" stroke-width="1.0"/>
<line x1="157.3" y1="758.9" x2="157.3" y2="762.9" stroke="#4DBBD5" stroke-width="1.0"/>
<line x1="159.35" y1="759.15" x2="159.35" y2="763.15" stroke="#4DBBD5" stroke-width="1.0"/>
<line x1="161.4" y1="759.4" x2="161.4" y2="763.4" stroke="#4DBBD5" stroke-width="1.0"/>
<line x1="170.7" y1="762.55" x2="170.7" y2="766.55" stroke="#4DBBD5" stroke-width="1.0"/>
<line x1="172.25" y1="763" x2="172.25" y2="767" stroke="#4DBBD5" stroke-width="1.0"/>
<line x1="173.8" y1="763" x2="173.8" y2="767" stroke="#4DBBD5" stroke-width="1.0"/>
<line x1="175.35" y1="763.5" x2="175.35" y2="767.5" stroke="#4DBBD5" stroke-width="1.0"/>
<line x1="176.9" y1="764" x2="176.9" y2="768" stroke="#4DBBD5" stroke-width="1.0"/>
<line x1="178.45" y1="764.5" x2="178.45" y2="768.5" stroke="#4DBBD5" stroke-width="1.0"/>
<line x1="180" y1="764.5" x2="180" y2="768.5" stroke="#4DBBD5" stroke-width="1.0"/>
<line x1="182.4" y1="765" x2="182.4" y2="769" stroke="#4DBBD5" stroke-width="1.0"/>
<line x1="183.5" y1="768" x2="183.5" y2="772" stroke="#4DBBD5" stroke-width="1.0"/>
<line x1="184.7" y1="770" x2="184.7" y2="774" stroke="#4DBBD5" stroke-width="1.0"/>
<line x1="188" y1="776.5" x2="188" y2="780.5" stroke="#4DBBD5" stroke-width="1.0"/>
<line x1="190" y1="777.02" x2="190" y2="781.02" stroke="#4DBBD5" stroke-width="1.0"/>
<line x1="193" y1="777.54" x2="193" y2="781.54" stroke="#4DBBD5" stroke-width="1.0"/>
<line x1="196" y1="778.58" x2="196" y2="782.58" stroke="#4DBBD5" stroke-width="1.0"/>
<line x1="201.8" y1="780.43" x2="201.8" y2="784.43" stroke="#4DBBD5" stroke-width="1.0"/>
<line x1="205" y1="784.4" x2="205" y2="788.4" stroke="#4DBBD5" stroke-width="1.0"/>
<line x1="207" y1="784.4" x2="207" y2="788.4" stroke="#4DBBD5" stroke-width="1.0"/>
<line x1="209" y1="784.4" x2="209" y2="788.4" stroke="#4DBBD5" stroke-width="1.0"/>
<line x1="211" y1="784.4" x2="211" y2="788.4" stroke="#4DBBD5" stroke-width="1.0"/>
<line x1="213" y1="784.4" x2="213" y2="788.4" stroke="#4DBBD5" stroke-width="1.0"/>
<line x1="215" y1="784.4" x2="215" y2="788.4" stroke="#4DBBD5" stroke-width="1.0"/>
<line x1="217" y1="784.4" x2="217" y2="788.4" stroke="#4DBBD5" stroke-width="1.0"/>
<line x1="219" y1="784.4" x2="219" y2="788.4" stroke="#4DBBD5" stroke-width="1.0"/>
<line x1="220.5" y1="784.4" x2="220.5" y2="788.4" stroke="#4DBBD5" stroke-width="1.0"/>
<line x1="76.7" y1="750.6" x2="76.7" y2="754.6" stroke="#E64B35" stroke-width="1.0"/>
<line x1="78" y1="750.6" x2="78" y2="754.6" stroke="#E64B35" stroke-width="1.0"/>
<line x1="80" y1="750.6" x2="80" y2="754.6" stroke="#E64B35" stroke-width="1.0"/>
<line x1="82" y1="750.6" x2="82" y2="754.6" stroke="#E64B35" stroke-width="1.0"/>
<line x1="87" y1="750.6" x2="87" y2="754.6" stroke="#E64B35" stroke-width="1.0"/>
<line x1="89" y1="750.6" x2="89" y2="754.6" stroke="#E64B35" stroke-width="1.0"/>
<line x1="90.5" y1="750.6" x2="90.5" y2="754.6" stroke="#E64B35" stroke-width="1.0"/>
<line x1="107.6" y1="760" x2="107.6" y2="764" stroke="#E64B35" stroke-width="1.0"/>
<line x1="109" y1="760.3" x2="109" y2="764.3" stroke="#E64B35" stroke-width="1.0"/>
<line x1="110" y1="760.6" x2="110" y2="764.6" stroke="#E64B35" stroke-width="1.0"/>
<line x1="111" y1="760.6" x2="111" y2="764.6" stroke="#E64B35" stroke-width="1.0"/>
<line x1="112" y1="761.42" x2="112" y2="765.42" stroke="#E64B35" stroke-width="1.0"/>
<line x1="113.5" y1="762.24" x2="113.5" y2="766.24" stroke="#E64B35" stroke-width="1.0"/>
<line x1="133.4" y1="770.9" x2="133.4" y2="774.9" stroke="#E64B35" stroke-width="1.0"/>
<line x1="134.93" y1="770.9" x2="134.93" y2="774.9" stroke="#E64B35" stroke-width="1.0"/>
<line x1="136.47" y1="771.95" x2="136.47" y2="775.95" stroke="#E64B35" stroke-width="1.0"/>
<line x1="138" y1="773" x2="138" y2="777" stroke="#E64B35" stroke-width="1.0"/>
<line x1="148.5" y1="777.62" x2="148.5" y2="781.62" stroke="#E64B35" stroke-width="1.0"/>
<line x1="154.4" y1="779.5" x2="154.4" y2="783.5" stroke="#E64B35" stroke-width="1.0"/>
<line x1="160.2" y1="780.7" x2="160.2" y2="784.7" stroke="#E64B35" stroke-width="1.0"/>
<line x1="161.84" y1="781.1" x2="161.84" y2="785.1" stroke="#E64B35" stroke-width="1.0"/>
<line x1="163.48" y1="781.5" x2="163.48" y2="785.5" stroke="#E64B35" stroke-width="1.0"/>
<line x1="165.12" y1="782" x2="165.12" y2="786" stroke="#E64B35" stroke-width="1.0"/>
<line x1="166.76" y1="782.5" x2="166.76" y2="786.5" stroke="#E64B35" stroke-width="1.0"/>
<line x1="168.4" y1="783" x2="168.4" y2="787" stroke="#E64B35" stroke-width="1.0"/>
<line x1="170.7" y1="783.5" x2="170.7" y2="787.5" stroke="#E64B35" stroke-width="1.0"/>
<line x1="172.25" y1="783.5" x2="172.25" y2="787.5" stroke="#E64B35" stroke-width="1.0"/>
<line x1="173.8" y1="784" x2="173.8" y2="788" stroke="#E64B35" stroke-width="1.0"/>
<line x1="175.35" y1="784.5" x2="175.35" y2="788.5" stroke="#E64B35" stroke-width="1.0"/>
<line x1="176.9" y1="785.25" x2="176.9" y2="789.25" stroke="#E64B35" stroke-width="1.0"/>
<line x1="178.45" y1="786" x2="178.45" y2="790" stroke="#E64B35" stroke-width="1.0"/>
<line x1="180" y1="786" x2="180" y2="790" stroke="#E64B35" stroke-width="1.0"/>
<line x1="182.4" y1="787.5" x2="182.4" y2="791.5" stroke="#E64B35" stroke-width="1.0"/>
<line x1="183.92" y1="789.02" x2="183.92" y2="793.02" stroke="#E64B35" stroke-width="1.0"/>
<line x1="185.44" y1="790.55" x2="185.44" y2="794.55" stroke="#E64B35" stroke-width="1.0"/>
<line x1="186.96" y1="792.08" x2="186.96" y2="796.08" stroke="#E64B35" stroke-width="1.0"/>
<line x1="188.48" y1="792.08" x2="188.48" y2="796.08" stroke="#E64B35" stroke-width="1.0"/>
<line x1="190" y1="793.6" x2="190" y2="797.6" stroke="#E64B35" stroke-width="1.0"/>
<line x1="195" y1="793.6" x2="195" y2="797.6" stroke="#E64B35" stroke-width="1.0"/>
<line x1="197" y1="793.6" x2="197" y2="797.6" stroke="#E64B35" stroke-width="1.0"/>
<line x1="199" y1="793.6" x2="199" y2="797.6" stroke="#E64B35" stroke-width="1.0"/>
<line x1="201" y1="793.6" x2="201" y2="797.6" stroke="#E64B35" stroke-width="1.0"/>
<line x1="205" y1="793.6" x2="205" y2="797.6" stroke="#E64B35" stroke-width="1.0"/>
<line x1="207" y1="793.6" x2="207" y2="797.6" stroke="#E64B35" stroke-width="1.0"/>
<line x1="209" y1="793.6" x2="209" y2="797.6" stroke="#E64B35" stroke-width="1.0"/>
<line x1="211" y1="793.6" x2="211" y2="797.6" stroke="#E64B35" stroke-width="1.0"/>
<line x1="213" y1="793.6" x2="213" y2="797.6" stroke="#E64B35" stroke-width="1.0"/>
<line x1="215.3" y1="793.6" x2="215.3" y2="797.6" stroke="#E64B35" stroke-width="1.0"/>
<line x1="54.1" y1="747.1" x2="54.1" y2="879.55" stroke="#000" stroke-width="1.1"/>
<line x1="53.55" y1="879" x2="226" y2="879" stroke="#000" stroke-width="1.1"/>
<line x1="50.9" y1="873.4" x2="54.1" y2="873.4" stroke="#000" stroke-width="1.1"/>
<text x="46.2" y="877.3" font-size="8.6" text-anchor="end" fill="#1a1a1a" stroke="#1a1a1a" stroke-width="0.15">0.0</text>
<line x1="50.9" y1="849.22" x2="54.1" y2="849.22" stroke="#000" stroke-width="1.1"/>
<text x="46.2" y="853.12" font-size="8.6" text-anchor="end" fill="#1a1a1a" stroke="#1a1a1a" stroke-width="0.15">0.2</text>
<line x1="50.9" y1="825.04" x2="54.1" y2="825.04" stroke="#000" stroke-width="1.1"/>
<text x="46.2" y="828.94" font-size="8.6" text-anchor="end" fill="#1a1a1a" stroke="#1a1a1a" stroke-width="0.15">0.4</text>
<line x1="50.9" y1="800.86" x2="54.1" y2="800.86" stroke="#000" stroke-width="1.1"/>
<text x="46.2" y="804.76" font-size="8.6" text-anchor="end" fill="#1a1a1a" stroke="#1a1a1a" stroke-width="0.15">0.6</text>
<line x1="50.9" y1="776.68" x2="54.1" y2="776.68" stroke="#000" stroke-width="1.1"/>
<text x="46.2" y="780.58" font-size="8.6" text-anchor="end" fill="#1a1a1a" stroke="#1a1a1a" stroke-width="0.15">0.8</text>
<line x1="50.9" y1="752.5" x2="54.1" y2="752.5" stroke="#000" stroke-width="1.1"/>
<text x="46.2" y="756.4" font-size="8.6" text-anchor="end" fill="#1a1a1a" stroke="#1a1a1a" stroke-width="0.15">1.0</text>
<line x1="61.7" y1="879" x2="61.7" y2="882.4" stroke="#000" stroke-width="1.1"/>
<text x="61.7" y="893" font-size="9.1" text-anchor="middle" fill="#1a1a1a" stroke="#1a1a1a" stroke-width="0.15">0</text>
<line x1="102.03" y1="879" x2="102.03" y2="882.4" stroke="#000" stroke-width="1.1"/>
<text x="102.03" y="893" font-size="9.1" text-anchor="middle" fill="#1a1a1a" stroke="#1a1a1a" stroke-width="0.15">30</text>
<line x1="142.35" y1="879" x2="142.35" y2="882.4" stroke="#000" stroke-width="1.1"/>
<text x="142.35" y="893" font-size="9.1" text-anchor="middle" fill="#1a1a1a" stroke="#1a1a1a" stroke-width="0.15">60</text>
<line x1="182.68" y1="879" x2="182.68" y2="882.4" stroke="#000" stroke-width="1.1"/>
<text x="182.68" y="893" font-size="9.1" text-anchor="middle" fill="#1a1a1a" stroke="#1a1a1a" stroke-width="0.15">90</text>
<line x1="223" y1="879" x2="223" y2="882.4" stroke="#000" stroke-width="1.1"/>
<text x="223" y="893" font-size="9.1" text-anchor="middle" fill="#1a1a1a" stroke="#1a1a1a" stroke-width="0.15">120</text>
<text x="140.9" y="906" font-size="10.3" text-anchor="middle" fill="#111" stroke="#111" stroke-width="0.15" transform="translate(140.9 906) scale(1.05 1) translate(-140.9 -906)">Time (m)</text>
<text x="27.7" y="812.8" font-size="10.3" text-anchor="middle" fill="#111" stroke="#111" stroke-width="0.15" transform="rotate(-90 27.7 812.8)">BCR-free survival</text>
<text x="62.2" y="862.9" font-size="7.4" fill="#1a1a1a" stroke="#1a1a1a" stroke-width="0.15" transform="translate(62.2 862.9) scale(1.05 1) translate(-62.2 -862.9)">HR = 2.09 (1.23-3.54)</text>
<text x="62.2" y="873" font-size="7.4" fill="#1a1a1a" stroke="#1a1a1a" stroke-width="0.15" transform="translate(62.2 873) scale(1.05 1) translate(-62.2 -873)">Log-rank P = 0.006</text>
<rect x="183.1" y="752.5" width="15.7" height="8" fill="#4DBBD5" fill-opacity="0.3"/>
<line x1="183.9" y1="756.5" x2="198" y2="756.5" stroke="#4DBBD5" stroke-width="1.2"/>
<line x1="190.95" y1="753.9" x2="190.95" y2="759.1" stroke="#4DBBD5" stroke-width="1.1"/>
<text x="204.4" y="759" font-size="7.2" fill="#1a1a1a" stroke="#1a1a1a" stroke-width="0.15">Low</text>
<rect x="183.1" y="763" width="15.7" height="8" fill="#E64B35" fill-opacity="0.3"/>
<line x1="183.9" y1="767" x2="198" y2="767" stroke="#E64B35" stroke-width="1.2"/>
<line x1="190.95" y1="764.4" x2="190.95" y2="769.6" stroke="#E64B35" stroke-width="1.1"/>
<text x="204.4" y="769.5" font-size="7.2" fill="#1a1a1a" stroke="#1a1a1a" stroke-width="0.15">High</text>
<line x1="62.2" y1="909.9" x2="62.2" y2="945.2" stroke="#ececec" stroke-width="0.8"/>
<line x1="81.81" y1="909.9" x2="81.81" y2="945.2" stroke="#ececec" stroke-width="0.8"/>
<line x1="101.43" y1="909.9" x2="101.43" y2="945.2" stroke="#ececec" stroke-width="0.8"/>
<line x1="121.04" y1="909.9" x2="121.04" y2="945.2" stroke="#ececec" stroke-width="0.8"/>
<line x1="140.65" y1="909.9" x2="140.65" y2="945.2" stroke="#ececec" stroke-width="0.8"/>
<line x1="160.26" y1="909.9" x2="160.26" y2="945.2" stroke="#ececec" stroke-width="0.8"/>
<line x1="179.88" y1="909.9" x2="179.88" y2="945.2" stroke="#ececec" stroke-width="0.8"/>
<line x1="199.49" y1="909.9" x2="199.49" y2="945.2" stroke="#ececec" stroke-width="0.8"/>
<line x1="219.1" y1="909.9" x2="219.1" y2="945.2" stroke="#ececec" stroke-width="0.8"/>
<line x1="53.9" y1="919" x2="227.1" y2="919" stroke="#ececec" stroke-width="0.8"/>
<line x1="53.9" y1="935" x2="227.1" y2="935" stroke="#ececec" stroke-width="0.8"/>
<rect x="53.9" y="909.9" width="173.2" height="35.3" fill="none" stroke="#111" stroke-width="1.2"/>
<text x="46.6" y="921.9" font-size="8.8" text-anchor="end" fill="#4DBBD5" stroke="#4DBBD5" stroke-width="0.15">Low</text>
<text x="62.2" y="922.6" font-size="8.8" text-anchor="middle" fill="#4DBBD5" stroke="#4DBBD5" stroke-width="0.15">124</text>
<text x="101.43" y="922.6" font-size="8.8" text-anchor="middle" fill="#4DBBD5" stroke="#4DBBD5" stroke-width="0.15">119</text>
<text x="140.65" y="922.6" font-size="8.8" text-anchor="middle" fill="#4DBBD5" stroke="#4DBBD5" stroke-width="0.15">113</text>
<text x="179.88" y="922.6" font-size="8.8" text-anchor="middle" fill="#4DBBD5" stroke="#4DBBD5" stroke-width="0.15">58</text>
<text x="219.1" y="922.6" font-size="8.8" text-anchor="middle" fill="#4DBBD5" stroke="#4DBBD5" stroke-width="0.15">0</text>
<text x="46.6" y="936.9" font-size="8.8" text-anchor="end" fill="#E64B35" stroke="#E64B35" stroke-width="0.15">High</text>
<text x="62.2" y="938.6" font-size="8.8" text-anchor="middle" fill="#E64B35" stroke="#E64B35" stroke-width="0.15">124</text>
<text x="101.43" y="938.6" font-size="8.8" text-anchor="middle" fill="#E64B35" stroke="#E64B35" stroke-width="0.15">110</text>
<text x="140.65" y="938.6" font-size="8.8" text-anchor="middle" fill="#E64B35" stroke="#E64B35" stroke-width="0.15">88</text>
<text x="179.88" y="938.6" font-size="8.8" text-anchor="middle" fill="#E64B35" stroke="#E64B35" stroke-width="0.15">35</text>
<text x="219.1" y="938.6" font-size="8.8" text-anchor="middle" fill="#E64B35" stroke="#E64B35" stroke-width="0.15">0</text>
</svg>
</body></html>
